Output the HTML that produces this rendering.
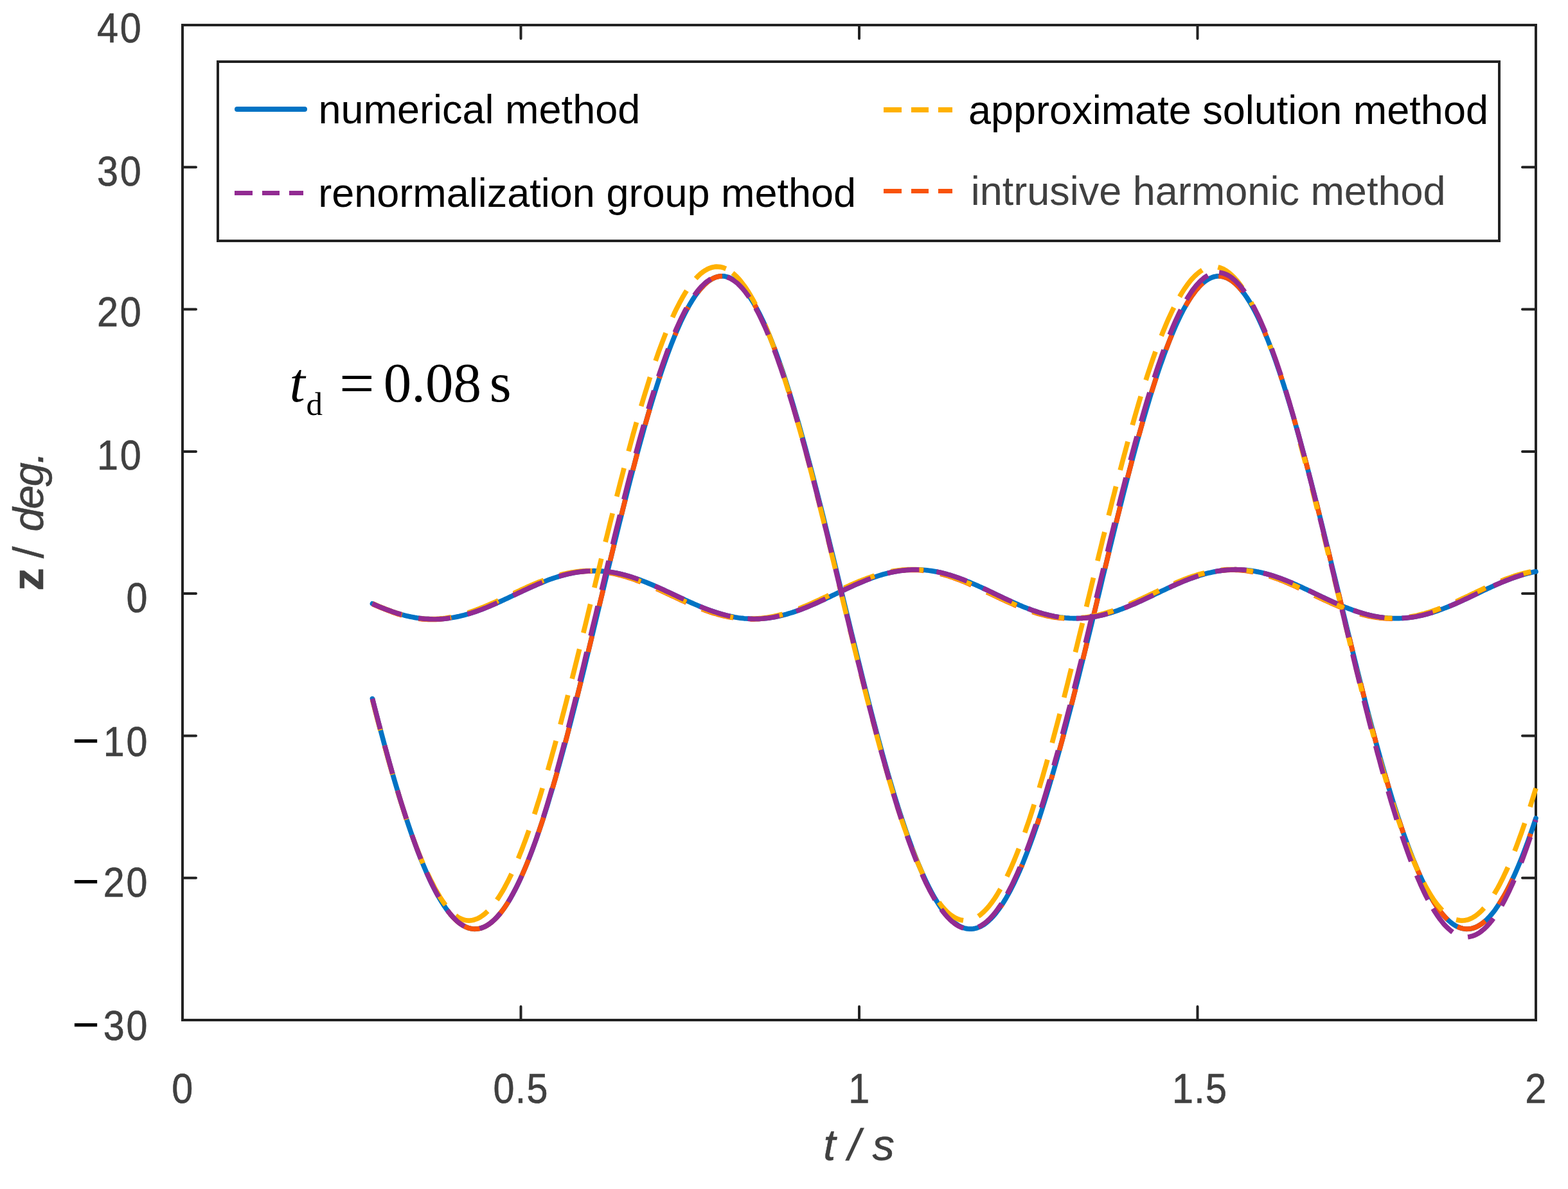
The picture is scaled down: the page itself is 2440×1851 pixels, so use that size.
<!DOCTYPE html>
<html lang="en"><head><meta charset="utf-8"><title>Time history comparison</title>
<style>
html,body{margin:0;padding:0;background:#fff;}
body{width:2440px;height:1851px;overflow:hidden;}
svg{display:block;}
</style></head>
<body>
<svg xmlns="http://www.w3.org/2000/svg" width="2440" height="1851" viewBox="0 0 2440 1851">
<defs><clipPath id="axclip"><rect x="282" y="37" width="2110.5" height="1553"/></clipPath></defs>
<rect x="0" y="0" width="2440" height="1851" fill="#ffffff"/>
<g stroke="#222222" stroke-width="4" fill="none" stroke-linecap="round">
<rect x="284" y="39" width="2106" height="1549"/>
<path d="M810.5 1588.0 V1567.0 M810.5 39.0 V60.0"/>
<path d="M1337.0 1588.0 V1567.0 M1337.0 39.0 V60.0"/>
<path d="M1863.5 1588.0 V1567.0 M1863.5 39.0 V60.0"/>
<path d="M284.0 260.3 H305.0 M2390.0 260.3 H2369.0"/>
<path d="M284.0 481.6 H305.0 M2390.0 481.6 H2369.0"/>
<path d="M284.0 702.9 H305.0 M2390.0 702.9 H2369.0"/>
<path d="M284.0 924.1 H305.0 M2390.0 924.1 H2369.0"/>
<path d="M284.0 1145.4 H305.0 M2390.0 1145.4 H2369.0"/>
<path d="M284.0 1366.7 H305.0 M2390.0 1366.7 H2369.0"/>
</g>
<g font-family="'Liberation Sans', Arial, sans-serif" font-size="62.5" fill="#404040" stroke="#404040" stroke-width="0.6" letter-spacing="2.8">
<text transform="translate(285.0,1717.0) scale(0.95,1.035)" text-anchor="middle">0</text>
<text transform="translate(1338.0,1717.0) scale(0.95,1.035)" text-anchor="middle">1</text>
<text transform="translate(2391.0,1717.0) scale(0.95,1.035)" text-anchor="middle">2</text>
<text transform="translate(853.7,1717.0) scale(0.95,1.035)" text-anchor="end" letter-spacing="1.3">0.5</text>
<text transform="translate(1910.3,1717.0) scale(0.95,1.035)" text-anchor="end" letter-spacing="1.3">1.5</text>
<text transform="translate(222.4,66.1) scale(0.95,1.035)" text-anchor="end">40</text>
<text transform="translate(222.4,289.0) scale(0.95,1.035)" text-anchor="end">30</text>
<text transform="translate(222.4,507.7) scale(0.95,1.035)" text-anchor="end">20</text>
<text transform="translate(222.4,731.0) scale(0.95,1.035)" text-anchor="end">10</text>
<text transform="translate(232.1,953.1) scale(0.95,1.035)" text-anchor="end">0</text>
<text transform="translate(232.1,1177.2) scale(0.95,1.035)" text-anchor="end">10</text>
<text x="133.5" y="1178.4" text-anchor="middle" fill="#000" stroke="none" letter-spacing="0" font-size="72.5">−</text>
<text transform="translate(232.1,1395.9) scale(0.95,1.035)" text-anchor="end">20</text>
<text x="133.5" y="1397.1" text-anchor="middle" fill="#000" stroke="none" letter-spacing="0" font-size="72.5">−</text>
<text transform="translate(232.1,1619.0) scale(0.95,1.035)" text-anchor="end">30</text>
<text x="133.5" y="1620.2" text-anchor="middle" fill="#000" stroke="none" letter-spacing="0" font-size="72.5">−</text>
</g>
<g font-family="'Liberation Sans', Arial, sans-serif" font-size="68.75" fill="#404040" stroke="#404040" stroke-width="0.5">
<text x="1336.6" y="1806" text-anchor="middle" font-style="italic">t / s</text>
<g transform="translate(67.0,0) rotate(-90)">
<text x="-919.7" y="0" font-weight="bold" textLength="35.5" lengthAdjust="spacingAndGlyphs">z</text>
<text x="-869.2" y="0" font-size="67">/</text>
<text x="-827.6" y="0" font-size="67" font-style="italic" letter-spacing="-2.1">deg.</text>
</g>
</g>
<g id="curves">
<path d="M579.5 939.8 L582.5 941.1 L585.5 942.4 L588.5 943.7 L591.5 944.9 L594.5 946.2 L597.5 947.4 L600.5 948.5 L603.5 949.6 L606.4 950.7 L609.4 951.8 L612.4 952.8 L615.4 953.8 L618.4 954.8 L621.4 955.7 L624.4 956.6 L627.4 957.4 L630.4 958.2 L633.4 958.9 L636.4 959.6 L639.4 960.2 L642.4 960.8 L645.4 961.4 L648.4 961.9 L651.4 962.3 L654.4 962.7 L657.4 963.0 L660.4 963.3 L663.4 963.6 L666.4 963.7 L669.4 963.9 L672.4 964.0 L675.4 964.0 L678.4 963.9 L681.4 963.9 L684.4 963.7 L687.4 963.5 L690.4 963.3 L693.4 963.0 L696.4 962.6 L699.4 962.2 L702.4 961.8 L705.4 961.3 L708.4 960.7 L711.4 960.1 L714.4 959.5 L717.4 958.8 L720.4 958.1 L723.4 957.3 L726.4 956.4 L729.3 955.6 L732.3 954.6 L735.3 953.7 L738.3 952.7 L741.3 951.7 L744.3 950.6 L747.3 949.5 L750.3 948.4 L753.3 947.2 L756.3 946.0 L759.3 944.8 L762.3 943.5 L765.3 942.2 L768.3 941.0 L771.3 939.6 L774.3 938.3 L777.3 936.9 L780.3 935.6 L783.3 934.2 L786.3 932.8 L789.3 931.4 L792.3 930.0 L795.3 928.6 L798.3 927.1 L801.3 925.7 L804.3 924.3 L807.3 922.9 L810.3 921.5 L813.3 920.1 L816.3 918.7 L819.3 917.3 L822.3 915.9 L825.3 914.6 L828.3 913.2 L831.3 911.9 L834.3 910.6 L837.3 909.3 L840.3 908.1 L843.3 906.9 L846.3 905.7 L849.3 904.5 L852.3 903.3 L855.2 902.2 L858.2 901.2 L861.2 900.1 L864.2 899.1 L867.2 898.2 L870.2 897.3 L873.2 896.4 L876.2 895.5 L879.2 894.7 L882.2 894.0 L885.2 893.3 L888.2 892.6 L891.2 892.0 L894.2 891.5 L897.2 891.0 L900.2 890.5 L903.2 890.1 L906.2 889.8 L909.2 889.5 L912.2 889.2 L915.2 889.0 L918.2 888.9 L921.2 888.8 L924.2 888.7 L927.2 888.8 L930.2 888.8 L933.2 888.9 L936.2 889.1 L939.2 889.4 L942.2 889.6 L945.2 890.0 L948.2 890.4 L951.2 890.8 L954.2 891.3 L957.2 891.8 L960.2 892.4 L963.2 893.0 L966.2 893.7 L969.2 894.5 L972.2 895.2 L975.2 896.1 L978.1 896.9 L981.1 897.8 L984.1 898.8 L987.1 899.8 L990.1 900.8 L993.1 901.8 L996.1 902.9 L999.1 904.1 L1002.1 905.2 L1005.1 906.4 L1008.1 907.6 L1011.1 908.9 L1014.1 910.1 L1017.1 911.4 L1020.1 912.7 L1023.1 914.1 L1026.1 915.4 L1029.1 916.8 L1032.1 918.1 L1035.1 919.5 L1038.1 920.9 L1041.1 922.3 L1044.1 923.7 L1047.1 925.1 L1050.1 926.5 L1053.1 927.9 L1056.1 929.3 L1059.1 930.7 L1062.1 932.1 L1065.1 933.5 L1068.1 934.9 L1071.1 936.2 L1074.1 937.6 L1077.1 938.9 L1080.1 940.2 L1083.1 941.5 L1086.1 942.8 L1089.1 944.1 L1092.1 945.3 L1095.1 946.5 L1098.1 947.7 L1101.0 948.8 L1104.0 949.9 L1107.0 951.0 L1110.0 952.0 L1113.0 953.0 L1116.0 954.0 L1119.0 954.9 L1122.0 955.8 L1125.0 956.6 L1128.0 957.4 L1131.0 958.2 L1134.0 958.9 L1137.0 959.5 L1140.0 960.1 L1143.0 960.7 L1146.0 961.2 L1149.0 961.7 L1152.0 962.1 L1155.0 962.4 L1158.0 962.8 L1161.0 963.0 L1164.0 963.2 L1167.0 963.4 L1170.0 963.4 L1173.0 963.5 L1176.0 963.5 L1179.0 963.4 L1182.0 963.3 L1185.0 963.1 L1188.0 962.9 L1191.0 962.6 L1194.0 962.3 L1197.0 961.9 L1200.0 961.5 L1203.0 961.0 L1206.0 960.4 L1209.0 959.8 L1212.0 959.2 L1215.0 958.5 L1218.0 957.8 L1221.0 957.0 L1223.9 956.2 L1226.9 955.3 L1229.9 954.4 L1232.9 953.5 L1235.9 952.5 L1238.9 951.5 L1241.9 950.4 L1244.9 949.3 L1247.9 948.2 L1250.9 947.0 L1253.9 945.8 L1256.9 944.6 L1259.9 943.3 L1262.9 942.0 L1265.9 940.7 L1268.9 939.4 L1271.9 938.1 L1274.9 936.7 L1277.9 935.3 L1280.9 933.9 L1283.9 932.5 L1286.9 931.1 L1289.9 929.7 L1292.9 928.2 L1295.9 926.8 L1298.9 925.4 L1301.9 923.9 L1304.9 922.5 L1307.9 921.0 L1310.9 919.6 L1313.9 918.2 L1316.9 916.8 L1319.9 915.4 L1322.9 914.0 L1325.9 912.6 L1328.9 911.3 L1331.9 910.0 L1334.9 908.6 L1337.9 907.4 L1340.9 906.1 L1343.9 904.9 L1346.8 903.6 L1349.8 902.5 L1352.8 901.3 L1355.8 900.2 L1358.8 899.1 L1361.8 898.1 L1364.8 897.1 L1367.8 896.1 L1370.8 895.2 L1373.8 894.3 L1376.8 893.5 L1379.8 892.7 L1382.8 892.0 L1385.8 891.3 L1388.8 890.6 L1391.8 890.0 L1394.8 889.5 L1397.8 889.0 L1400.8 888.5 L1403.8 888.1 L1406.8 887.8 L1409.8 887.5 L1412.8 887.3 L1415.8 887.1 L1418.8 886.9 L1421.8 886.9 L1424.8 886.8 L1427.8 886.9 L1430.8 886.9 L1433.8 887.1 L1436.8 887.3 L1439.8 887.5 L1442.8 887.8 L1445.8 888.2 L1448.8 888.6 L1451.8 889.1 L1454.8 889.6 L1457.8 890.1 L1460.8 890.8 L1463.8 891.4 L1466.8 892.1 L1469.7 892.9 L1472.7 893.7 L1475.7 894.6 L1478.7 895.4 L1481.7 896.4 L1484.7 897.4 L1487.7 898.4 L1490.7 899.4 L1493.7 900.5 L1496.7 901.6 L1499.7 902.8 L1502.7 904.0 L1505.7 905.2 L1508.7 906.4 L1511.7 907.7 L1514.7 909.0 L1517.7 910.3 L1520.7 911.6 L1523.7 913.0 L1526.7 914.3 L1529.7 915.7 L1532.7 917.1 L1535.7 918.5 L1538.7 919.9 L1541.7 921.4 L1544.7 922.8 L1547.7 924.2 L1550.7 925.7 L1553.7 927.1 L1556.7 928.5 L1559.7 929.9 L1562.7 931.4 L1565.7 932.8 L1568.7 934.2 L1571.7 935.5 L1574.7 936.9 L1577.7 938.2 L1580.7 939.6 L1583.7 940.9 L1586.7 942.2 L1589.7 943.4 L1592.6 944.7 L1595.6 945.9 L1598.6 947.0 L1601.6 948.2 L1604.6 949.3 L1607.6 950.4 L1610.6 951.4 L1613.6 952.4 L1616.6 953.4 L1619.6 954.3 L1622.6 955.1 L1625.6 956.0 L1628.6 956.8 L1631.6 957.5 L1634.6 958.2 L1637.6 958.9 L1640.6 959.5 L1643.6 960.0 L1646.6 960.5 L1649.6 961.0 L1652.6 961.3 L1655.6 961.7 L1658.6 962.0 L1661.6 962.2 L1664.6 962.4 L1667.6 962.5 L1670.6 962.6 L1673.6 962.6 L1676.6 962.6 L1679.6 962.5 L1682.6 962.4 L1685.6 962.2 L1688.6 962.0 L1691.6 961.7 L1694.6 961.3 L1697.6 960.9 L1700.6 960.5 L1703.6 960.0 L1706.6 959.4 L1709.6 958.8 L1712.6 958.1 L1715.5 957.4 L1718.5 956.7 L1721.5 955.9 L1724.5 955.1 L1727.5 954.2 L1730.5 953.3 L1733.5 952.3 L1736.5 951.3 L1739.5 950.3 L1742.5 949.2 L1745.5 948.1 L1748.5 946.9 L1751.5 945.7 L1754.5 944.5 L1757.5 943.3 L1760.5 942.0 L1763.5 940.8 L1766.5 939.4 L1769.5 938.1 L1772.5 936.8 L1775.5 935.4 L1778.5 934.0 L1781.5 932.6 L1784.5 931.2 L1787.5 929.8 L1790.5 928.4 L1793.5 927.0 L1796.5 925.5 L1799.5 924.1 L1802.5 922.7 L1805.5 921.2 L1808.5 919.8 L1811.5 918.4 L1814.5 917.0 L1817.5 915.6 L1820.5 914.2 L1823.5 912.8 L1826.5 911.5 L1829.5 910.2 L1832.5 908.8 L1835.5 907.6 L1838.4 906.3 L1841.4 905.0 L1844.4 903.8 L1847.4 902.7 L1850.4 901.5 L1853.4 900.4 L1856.4 899.3 L1859.4 898.3 L1862.4 897.3 L1865.4 896.3 L1868.4 895.4 L1871.4 894.5 L1874.4 893.6 L1877.4 892.8 L1880.4 892.1 L1883.4 891.4 L1886.4 890.7 L1889.4 890.1 L1892.4 889.5 L1895.4 889.0 L1898.4 888.6 L1901.4 888.1 L1904.4 887.8 L1907.4 887.5 L1910.4 887.2 L1913.4 887.0 L1916.4 886.9 L1919.4 886.8 L1922.4 886.7 L1925.4 886.8 L1928.4 886.8 L1931.4 887.0 L1934.4 887.1 L1937.4 887.4 L1940.4 887.6 L1943.4 888.0 L1946.4 888.4 L1949.4 888.8 L1952.4 889.3 L1955.4 889.9 L1958.4 890.4 L1961.3 891.1 L1964.3 891.8 L1967.3 892.5 L1970.3 893.3 L1973.3 894.1 L1976.3 895.0 L1979.3 895.9 L1982.3 896.8 L1985.3 897.8 L1988.3 898.9 L1991.3 899.9 L1994.3 901.0 L1997.3 902.2 L2000.3 903.3 L2003.3 904.5 L2006.3 905.8 L2009.3 907.0 L2012.3 908.3 L2015.3 909.6 L2018.3 910.9 L2021.3 912.3 L2024.3 913.6 L2027.3 915.0 L2030.3 916.4 L2033.3 917.8 L2036.3 919.2 L2039.3 920.6 L2042.3 922.1 L2045.3 923.5 L2048.3 924.9 L2051.3 926.4 L2054.3 927.8 L2057.3 929.2 L2060.3 930.6 L2063.3 932.0 L2066.3 933.4 L2069.3 934.8 L2072.3 936.2 L2075.3 937.6 L2078.3 938.9 L2081.3 940.2 L2084.2 941.5 L2087.2 942.8 L2090.2 944.0 L2093.2 945.3 L2096.2 946.4 L2099.2 947.6 L2102.2 948.7 L2105.2 949.8 L2108.2 950.9 L2111.2 951.9 L2114.2 952.9 L2117.2 953.8 L2120.2 954.7 L2123.2 955.6 L2126.2 956.4 L2129.2 957.1 L2132.2 957.9 L2135.2 958.5 L2138.2 959.2 L2141.2 959.7 L2144.2 960.3 L2147.2 960.7 L2150.2 961.2 L2153.2 961.5 L2156.2 961.8 L2159.2 962.1 L2162.2 962.3 L2165.2 962.5 L2168.2 962.6 L2171.2 962.6 L2174.2 962.6 L2177.2 962.6 L2180.2 962.5 L2183.2 962.3 L2186.2 962.1 L2189.2 961.8 L2192.2 961.5 L2195.2 961.1 L2198.2 960.7 L2201.2 960.2 L2204.2 959.7 L2207.1 959.1 L2210.1 958.5 L2213.1 957.8 L2216.1 957.1 L2219.1 956.3 L2222.1 955.5 L2225.1 954.6 L2228.1 953.7 L2231.1 952.8 L2234.1 951.8 L2237.1 950.8 L2240.1 949.7 L2243.1 948.6 L2246.1 947.5 L2249.1 946.3 L2252.1 945.2 L2255.1 943.9 L2258.1 942.7 L2261.1 941.4 L2264.1 940.1 L2267.1 938.8 L2270.1 937.5 L2273.1 936.1 L2276.1 934.7 L2279.1 933.3 L2282.1 931.9 L2285.1 930.5 L2288.1 929.1 L2291.1 927.7 L2294.1 926.3 L2297.1 924.8 L2300.1 923.4 L2303.1 922.0 L2306.1 920.5 L2309.1 919.1 L2312.1 917.7 L2315.1 916.3 L2318.1 914.9 L2321.1 913.5 L2324.1 912.2 L2327.1 910.8 L2330.0 909.5 L2333.0 908.2 L2336.0 906.9 L2339.0 905.7 L2342.0 904.4 L2345.0 903.3 L2348.0 902.1 L2351.0 901.0 L2354.0 899.9 L2357.0 898.8 L2360.0 897.8 L2363.0 896.8 L2366.0 895.8 L2369.0 894.9 L2372.0 894.0 L2375.0 893.2 L2378.0 892.4 L2381.0 891.7 L2384.0 891.0 L2387.0 890.4 L2390.0 889.8" stroke="#0073C4" stroke-width="7.7" fill="none" stroke-linecap="round" stroke-linejoin="round"/>
<path d="M579.5 1087.8 L582.5 1099.5 L585.5 1111.1 L588.5 1122.6 L591.5 1134.0 L594.5 1145.2 L597.5 1156.4 L600.5 1167.4 L603.5 1178.2 L606.4 1188.9 L609.4 1199.5 L612.4 1209.9 L615.4 1220.1 L618.4 1230.2 L621.4 1240.1 L624.4 1249.8 L627.4 1259.3 L630.4 1268.7 L633.4 1277.8 L636.4 1286.8 L639.4 1295.5 L642.4 1304.1 L645.4 1312.4 L648.4 1320.5 L651.4 1328.4 L654.4 1336.0 L657.4 1343.4 L660.4 1350.6 L663.4 1357.6 L666.4 1364.3 L669.4 1370.8 L672.4 1377.0 L675.4 1383.0 L678.4 1388.7 L681.4 1394.1 L684.4 1399.3 L687.4 1404.3 L690.4 1409.0 L693.4 1413.4 L696.4 1417.5 L699.4 1421.4 L702.4 1425.0 L705.4 1428.3 L708.4 1431.3 L711.4 1434.1 L714.4 1436.6 L717.4 1438.8 L720.4 1440.7 L723.4 1442.3 L726.4 1443.7 L729.3 1444.8 L732.3 1445.5 L735.3 1446.0 L738.3 1446.3 L741.3 1446.2 L744.3 1445.8 L747.3 1445.2 L750.3 1444.3 L753.3 1443.0 L756.3 1441.6 L759.3 1439.8 L762.3 1437.7 L765.3 1435.4 L768.3 1432.7 L771.3 1429.8 L774.3 1426.7 L777.3 1423.2 L780.3 1419.5 L783.3 1415.5 L786.3 1411.2 L789.3 1406.7 L792.3 1401.8 L795.3 1396.7 L798.3 1391.3 L801.3 1385.6 L804.3 1379.7 L807.3 1373.5 L810.3 1367.0 L813.3 1360.3 L816.3 1353.4 L819.3 1346.2 L822.3 1338.7 L825.3 1331.1 L828.3 1323.2 L831.3 1315.0 L834.3 1306.7 L837.3 1298.1 L840.3 1289.3 L843.3 1280.3 L846.3 1271.1 L849.3 1261.7 L852.3 1252.0 L855.2 1242.2 L858.2 1232.3 L861.2 1222.1 L864.2 1211.8 L867.2 1201.2 L870.2 1190.6 L873.2 1179.8 L876.2 1168.8 L879.2 1157.7 L882.2 1146.4 L885.2 1135.0 L888.2 1123.5 L891.2 1111.9 L894.2 1100.1 L897.2 1088.3 L900.2 1076.3 L903.2 1064.3 L906.2 1052.2 L909.2 1040.0 L912.2 1027.7 L915.2 1015.4 L918.2 1003.0 L921.2 990.5 L924.2 978.1 L927.2 965.6 L930.2 953.0 L933.2 940.5 L936.2 927.9 L939.2 915.5 L942.2 903.1 L945.2 890.7 L948.2 878.4 L951.2 866.0 L954.2 853.7 L957.2 841.5 L960.2 829.3 L963.2 817.1 L966.2 805.0 L969.2 793.0 L972.2 781.1 L975.2 769.3 L978.1 757.5 L981.1 745.9 L984.1 734.3 L987.1 722.9 L990.1 711.6 L993.1 700.5 L996.1 689.4 L999.1 678.6 L1002.1 667.8 L1005.1 657.3 L1008.1 646.9 L1011.1 636.7 L1014.1 626.6 L1017.1 616.8 L1020.1 607.1 L1023.1 597.6 L1026.1 588.4 L1029.1 579.3 L1032.1 570.5 L1035.1 561.9 L1038.1 553.5 L1041.1 545.4 L1044.1 537.5 L1047.1 529.8 L1050.1 522.4 L1053.1 515.3 L1056.1 508.4 L1059.1 501.7 L1062.1 495.4 L1065.1 489.3 L1068.1 483.5 L1071.1 478.0 L1074.1 472.7 L1077.1 467.8 L1080.1 463.1 L1083.1 458.7 L1086.1 454.7 L1089.1 450.9 L1092.1 447.5 L1095.1 444.3 L1098.1 441.4 L1101.0 438.9 L1104.0 436.7 L1107.0 434.8 L1110.0 433.2 L1113.0 431.9 L1116.0 430.9 L1119.0 430.3 L1122.0 429.9 L1125.0 429.9 L1128.0 430.2 L1131.0 430.9 L1134.0 431.8 L1137.0 433.1 L1140.0 434.6 L1143.0 436.5 L1146.0 438.7 L1149.0 441.2 L1152.0 444.1 L1155.0 447.2 L1158.0 450.6 L1161.0 454.4 L1164.0 458.4 L1167.0 462.7 L1170.0 467.4 L1173.0 472.3 L1176.0 477.5 L1179.0 483.0 L1182.0 488.8 L1185.0 494.9 L1188.0 501.2 L1191.0 507.8 L1194.0 514.7 L1197.0 521.8 L1200.0 529.2 L1203.0 536.8 L1206.0 544.7 L1209.0 552.8 L1212.0 561.2 L1215.0 569.8 L1218.0 578.6 L1221.0 587.6 L1223.9 596.9 L1226.9 606.3 L1229.9 616.0 L1232.9 625.8 L1235.9 635.8 L1238.9 646.0 L1241.9 656.4 L1244.9 667.0 L1247.9 677.7 L1250.9 688.6 L1253.9 699.6 L1256.9 710.7 L1259.9 722.0 L1262.9 733.4 L1265.9 744.9 L1268.9 756.6 L1271.9 768.3 L1274.9 780.1 L1277.9 792.0 L1280.9 804.0 L1283.9 816.1 L1286.9 828.3 L1289.9 840.5 L1292.9 852.7 L1295.9 865.0 L1298.9 877.3 L1301.9 889.7 L1304.9 902.1 L1307.9 914.5 L1310.9 926.9 L1313.9 939.3 L1316.9 951.7 L1319.9 964.0 L1322.9 976.4 L1325.9 988.7 L1328.9 1001.0 L1331.9 1013.2 L1334.9 1025.4 L1337.9 1037.5 L1340.9 1049.6 L1343.9 1061.6 L1346.8 1073.5 L1349.8 1085.3 L1352.8 1097.0 L1355.8 1108.7 L1358.8 1120.2 L1361.8 1131.6 L1364.8 1142.9 L1367.8 1154.0 L1370.8 1165.0 L1373.8 1175.9 L1376.8 1186.7 L1379.8 1197.3 L1382.8 1207.7 L1385.8 1218.0 L1388.8 1228.1 L1391.8 1238.0 L1394.8 1247.8 L1397.8 1257.3 L1400.8 1266.7 L1403.8 1275.9 L1406.8 1284.9 L1409.8 1293.7 L1412.8 1302.3 L1415.8 1310.6 L1418.8 1318.8 L1421.8 1326.7 L1424.8 1334.4 L1427.8 1341.9 L1430.8 1349.1 L1433.8 1356.1 L1436.8 1362.9 L1439.8 1369.4 L1442.8 1375.7 L1445.8 1381.7 L1448.8 1387.5 L1451.8 1393.0 L1454.8 1398.3 L1457.8 1403.3 L1460.8 1408.0 L1463.8 1412.5 L1466.8 1416.7 L1469.7 1420.6 L1472.7 1424.2 L1475.7 1427.6 L1478.7 1430.7 L1481.7 1433.5 L1484.7 1436.1 L1487.7 1438.3 L1490.7 1440.3 L1493.7 1442.0 L1496.7 1443.4 L1499.7 1444.6 L1502.7 1445.4 L1505.7 1446.0 L1508.7 1446.2 L1511.7 1446.2 L1514.7 1445.9 L1517.7 1445.3 L1520.7 1444.5 L1523.7 1443.3 L1526.7 1441.9 L1529.7 1440.2 L1532.7 1438.2 L1535.7 1435.9 L1538.7 1433.3 L1541.7 1430.5 L1544.7 1427.4 L1547.7 1424.0 L1550.7 1420.3 L1553.7 1416.3 L1556.7 1412.1 L1559.7 1407.7 L1562.7 1402.9 L1565.7 1397.9 L1568.7 1392.6 L1571.7 1387.1 L1574.7 1381.3 L1577.7 1375.2 L1580.7 1368.9 L1583.7 1362.4 L1586.7 1355.6 L1589.7 1348.6 L1592.6 1341.3 L1595.6 1333.8 L1598.6 1326.1 L1601.6 1318.2 L1604.6 1310.0 L1607.6 1301.6 L1610.6 1293.0 L1613.6 1284.2 L1616.6 1275.2 L1619.6 1266.0 L1622.6 1256.6 L1625.6 1247.0 L1628.6 1237.3 L1631.6 1227.3 L1634.6 1217.2 L1637.6 1206.9 L1640.6 1196.5 L1643.6 1185.9 L1646.6 1175.1 L1649.6 1164.2 L1652.6 1153.2 L1655.6 1142.0 L1658.6 1130.7 L1661.6 1119.3 L1664.6 1107.8 L1667.6 1096.2 L1670.6 1084.4 L1673.6 1072.6 L1676.6 1060.7 L1679.6 1048.7 L1682.6 1036.6 L1685.6 1024.5 L1688.6 1012.3 L1691.6 1000.1 L1694.6 987.8 L1697.6 975.5 L1700.6 963.1 L1703.6 950.7 L1706.6 938.4 L1709.6 926.0 L1712.6 913.6 L1715.5 901.2 L1718.5 888.8 L1721.5 876.4 L1724.5 864.1 L1727.5 851.8 L1730.5 839.6 L1733.5 827.4 L1736.5 815.2 L1739.5 803.1 L1742.5 791.1 L1745.5 779.2 L1748.5 767.4 L1751.5 755.7 L1754.5 744.1 L1757.5 732.5 L1760.5 721.1 L1763.5 709.9 L1766.5 698.7 L1769.5 687.7 L1772.5 676.9 L1775.5 666.2 L1778.5 655.6 L1781.5 645.3 L1784.5 635.1 L1787.5 625.1 L1790.5 615.2 L1793.5 605.6 L1796.5 596.2 L1799.5 586.9 L1802.5 577.9 L1805.5 569.1 L1808.5 560.6 L1811.5 552.2 L1814.5 544.1 L1817.5 536.3 L1820.5 528.6 L1823.5 521.3 L1826.5 514.2 L1829.5 507.3 L1832.5 500.7 L1835.5 494.4 L1838.4 488.4 L1841.4 482.6 L1844.4 477.1 L1847.4 471.9 L1850.4 467.0 L1853.4 462.4 L1856.4 458.1 L1859.4 454.1 L1862.4 450.4 L1865.4 446.9 L1868.4 443.8 L1871.4 441.0 L1874.4 438.5 L1877.4 436.4 L1880.4 434.5 L1883.4 433.0 L1886.4 431.7 L1889.4 430.8 L1892.4 430.2 L1895.4 429.9 L1898.4 430.0 L1901.4 430.3 L1904.4 431.0 L1907.4 432.0 L1910.4 433.3 L1913.4 434.9 L1916.4 436.8 L1919.4 439.1 L1922.4 441.7 L1925.4 444.5 L1928.4 447.7 L1931.4 451.2 L1934.4 455.0 L1937.4 459.1 L1940.4 463.4 L1943.4 468.1 L1946.4 473.1 L1949.4 478.4 L1952.4 483.9 L1955.4 489.7 L1958.4 495.8 L1961.3 502.2 L1964.3 508.9 L1967.3 515.8 L1970.3 523.0 L1973.3 530.4 L1976.3 538.1 L1979.3 546.0 L1982.3 554.1 L1985.3 562.5 L1988.3 571.2 L1991.3 580.0 L1994.3 589.1 L1997.3 598.3 L2000.3 607.8 L2003.3 617.5 L2006.3 627.4 L2009.3 637.4 L2012.3 647.7 L2015.3 658.1 L2018.3 668.6 L2021.3 679.4 L2024.3 690.3 L2027.3 701.3 L2030.3 712.5 L2033.3 723.8 L2036.3 735.2 L2039.3 746.7 L2042.3 758.4 L2045.3 770.1 L2048.3 782.0 L2051.3 793.9 L2054.3 805.9 L2057.3 818.0 L2060.3 830.2 L2063.3 842.4 L2066.3 854.6 L2069.3 866.9 L2072.3 879.3 L2075.3 891.6 L2078.3 904.0 L2081.3 916.4 L2084.2 928.8 L2087.2 941.2 L2090.2 953.6 L2093.2 966.0 L2096.2 978.3 L2099.2 990.6 L2102.2 1002.9 L2105.2 1015.1 L2108.2 1027.3 L2111.2 1039.4 L2114.2 1051.5 L2117.2 1063.5 L2120.2 1075.4 L2123.2 1087.2 L2126.2 1098.9 L2129.2 1110.5 L2132.2 1122.0 L2135.2 1133.4 L2138.2 1144.6 L2141.2 1155.8 L2144.2 1166.8 L2147.2 1177.6 L2150.2 1188.3 L2153.2 1198.9 L2156.2 1209.3 L2159.2 1219.6 L2162.2 1229.6 L2165.2 1239.6 L2168.2 1249.3 L2171.2 1258.8 L2174.2 1268.2 L2177.2 1277.3 L2180.2 1286.3 L2183.2 1295.0 L2186.2 1303.6 L2189.2 1311.9 L2192.2 1320.0 L2195.2 1327.9 L2198.2 1335.6 L2201.2 1343.0 L2204.2 1350.2 L2207.1 1357.2 L2210.1 1363.9 L2213.1 1370.4 L2216.1 1376.7 L2219.1 1382.7 L2222.1 1388.4 L2225.1 1393.9 L2228.1 1399.1 L2231.1 1404.0 L2234.1 1408.7 L2237.1 1413.1 L2240.1 1417.3 L2243.1 1421.2 L2246.1 1424.8 L2249.1 1428.1 L2252.1 1431.2 L2255.1 1433.9 L2258.1 1436.4 L2261.1 1438.7 L2264.1 1440.6 L2267.1 1442.3 L2270.1 1443.6 L2273.1 1444.7 L2276.1 1445.5 L2279.1 1446.0 L2282.1 1446.3 L2285.1 1446.2 L2288.1 1445.9 L2291.1 1445.2 L2294.1 1444.3 L2297.1 1443.1 L2300.1 1441.6 L2303.1 1439.9 L2306.1 1437.8 L2309.1 1435.5 L2312.1 1432.9 L2315.1 1430.0 L2318.1 1426.8 L2321.1 1423.4 L2324.1 1419.7 L2327.1 1415.7 L2330.0 1411.4 L2333.0 1406.9 L2336.0 1402.1 L2339.0 1397.1 L2342.0 1391.8 L2345.0 1386.2 L2348.0 1380.4 L2351.0 1374.3 L2354.0 1367.9 L2357.0 1361.4 L2360.0 1354.5 L2363.0 1347.5 L2366.0 1340.2 L2369.0 1332.7 L2372.0 1324.9 L2375.0 1316.9 L2378.0 1308.7 L2381.0 1300.3 L2384.0 1291.7 L2387.0 1282.8 L2390.0 1273.8" stroke="#0073C4" stroke-width="7.7" fill="none" stroke-linecap="round" stroke-linejoin="round"/>
<path d="M579.5 940.3 L582.3 941.5 L585.2 942.8 L588.1 944.0 L591.0 945.2 L593.9 946.4 L596.7 947.5 L599.6 948.6 L602.5 949.8 L605.4 950.9 L608.3 952.0 L611.1 953.0 L614.0 954.1 L616.9 955.0 L619.8 956.0 L622.6 956.8 L625.5 957.7 M651.3 963.1 L654.3 963.5 L657.3 963.8 L660.3 964.0 L663.3 964.2 L666.3 964.3 L669.3 964.4 L672.3 964.4 L675.3 964.4 L678.3 964.3 L681.3 964.1 L684.3 963.9 L687.3 963.6 L690.3 963.2 L693.3 962.8 L696.3 962.4 L699.3 961.8 L702.3 961.3 M728.0 954.6 L730.9 953.7 L733.9 952.7 L736.9 951.6 L739.9 950.6 L742.9 949.4 L745.8 948.3 L748.8 947.1 L751.8 945.9 L754.8 944.7 L757.8 943.4 L760.7 942.2 L763.7 940.9 L766.7 939.5 L769.7 938.2 L772.7 936.9 L775.7 935.5 M799.5 924.3 L802.4 922.9 L805.4 921.5 L808.3 920.1 L811.2 918.8 L814.1 917.4 L817.1 916.1 L820.0 914.8 L822.9 913.5 L825.8 912.2 L828.8 910.9 L831.7 909.7 L834.6 908.5 L837.5 907.3 L840.4 906.1 L843.4 905.0 L846.3 903.9 M871.2 895.8 L874.2 895.0 L877.1 894.3 L880.1 893.6 L883.1 893.0 L886.1 892.4 L889.0 891.8 L892.0 891.3 L895.0 890.9 L897.9 890.5 L900.9 890.1 L903.9 889.9 L906.8 889.6 L909.8 889.4 L912.8 889.3 L915.7 889.2 L918.7 889.2 L921.7 889.2 M947.9 891.7 L950.8 892.2 L953.7 892.7 L956.6 893.3 L959.5 894.0 L962.4 894.7 L965.3 895.4 L968.2 896.2 L971.1 897.0 L974.0 897.9 L976.9 898.8 L979.8 899.7 L982.7 900.7 L985.6 901.7 L988.5 902.7 L991.4 903.8 L994.3 904.9 L997.2 906.0 M1021.6 916.4 L1024.5 917.7 L1027.4 919.0 L1030.3 920.4 L1033.2 921.7 L1036.1 923.1 L1039.0 924.5 L1041.9 925.8 L1044.8 927.2 L1047.7 928.5 L1050.6 929.9 L1053.5 931.3 L1056.4 932.6 L1059.3 934.0 L1062.2 935.3 L1065.1 936.6 L1068.0 937.9 M1092.2 948.1 L1095.1 949.2 L1098.0 950.3 L1100.9 951.3 L1103.7 952.3 L1106.6 953.3 L1109.5 954.2 L1112.4 955.1 L1115.3 955.9 L1118.1 956.8 L1121.0 957.5 L1123.9 958.3 L1126.8 959.0 L1129.7 959.6 L1132.5 960.2 L1135.4 960.8 L1138.3 961.3 L1141.2 961.8 M1167.4 963.9 L1170.3 963.9 L1173.3 963.8 L1176.3 963.7 L1179.3 963.6 L1182.3 963.3 L1185.2 963.0 L1188.2 962.7 L1191.2 962.3 L1194.2 961.9 L1197.2 961.4 L1200.1 960.9 L1203.1 960.3 L1206.1 959.7 L1209.1 959.0 L1212.1 958.3 L1215.0 957.5 L1218.0 956.7 M1243.1 948.2 L1246.1 947.1 L1249.0 945.9 L1251.9 944.7 L1254.8 943.4 L1257.8 942.2 L1260.7 940.9 L1263.6 939.6 L1266.6 938.3 L1269.5 937.0 L1272.4 935.6 L1275.4 934.2 L1278.3 932.9 L1281.2 931.5 L1284.2 930.1 L1287.1 928.7 L1290.0 927.3 M1313.8 916.0 L1316.7 914.6 L1319.7 913.2 L1322.7 911.9 L1325.6 910.6 L1328.6 909.3 L1331.5 908.0 L1334.5 906.8 L1337.4 905.6 L1340.4 904.4 L1343.3 903.2 L1346.3 902.1 L1349.2 901.0 L1352.2 899.9 L1355.1 898.9 L1358.1 897.9 L1361.0 896.9 M1386.4 890.4 L1389.4 889.9 L1392.4 889.4 L1395.4 888.9 L1398.4 888.5 L1401.4 888.2 L1404.4 887.9 L1407.4 887.7 L1410.4 887.5 L1413.4 887.4 L1416.4 887.3 L1419.3 887.3 L1422.3 887.3 L1425.3 887.4 L1428.3 887.5 L1431.3 887.7 L1434.3 888.0 L1437.3 888.3 M1463.3 893.2 L1466.1 893.9 L1469.0 894.7 L1471.8 895.5 L1474.7 896.4 L1477.5 897.3 L1480.4 898.3 L1483.2 899.2 L1486.0 900.3 L1488.9 901.3 L1491.7 902.4 L1494.6 903.5 L1497.4 904.6 L1500.3 905.8 L1503.1 906.9 L1506.0 908.1 L1508.8 909.4 L1511.6 910.6 M1535.6 921.7 L1538.5 923.1 L1541.4 924.5 L1544.3 925.8 L1547.2 927.2 L1550.1 928.6 L1553.0 930.0 L1555.9 931.4 L1558.8 932.7 L1561.7 934.1 L1564.6 935.4 L1567.5 936.7 L1570.4 938.0 L1573.3 939.3 L1576.2 940.6 L1579.1 941.9 L1582.0 943.1 M1606.5 952.4 L1609.5 953.4 L1612.4 954.3 L1615.3 955.2 L1618.3 956.0 L1621.2 956.8 L1624.1 957.5 L1627.0 958.2 L1630.0 958.9 L1632.9 959.5 L1635.8 960.1 L1638.8 960.6 L1641.7 961.1 L1644.6 961.5 L1647.5 961.9 L1650.5 962.2 L1653.4 962.5 L1656.3 962.7 M1682.6 962.4 L1685.6 962.1 L1688.5 961.8 L1691.5 961.4 L1694.4 961.0 L1697.4 960.5 L1700.3 959.9 L1703.2 959.3 L1706.2 958.7 L1709.1 958.0 L1712.1 957.3 L1715.0 956.5 L1718.0 955.7 L1720.9 954.9 L1723.8 954.0 L1726.8 953.0 L1729.7 952.1 L1732.7 951.1 M1757.3 941.4 L1760.2 940.1 L1763.1 938.8 L1766.0 937.5 L1768.9 936.2 L1771.8 934.9 L1774.7 933.5 L1777.6 932.2 L1780.5 930.8 L1783.4 929.4 L1786.3 928.1 L1789.2 926.7 L1792.1 925.3 L1795.0 923.9 L1797.9 922.5 L1800.8 921.1 L1803.7 919.8 M1827.2 909.0 L1830.2 907.8 L1833.2 906.5 L1836.1 905.3 L1839.1 904.1 L1842.0 902.9 L1845.0 901.8 L1848.0 900.7 L1850.9 899.7 L1853.9 898.6 L1856.8 897.6 L1859.8 896.7 L1862.7 895.8 L1865.7 894.9 L1868.7 894.1 L1871.6 893.3 L1874.6 892.5 M1900.0 888.1 L1903.0 887.8 L1905.9 887.6 L1908.9 887.4 L1911.8 887.3 L1914.8 887.2 L1917.7 887.2 L1920.7 887.2 L1923.6 887.3 L1926.6 887.5 L1929.5 887.6 L1932.5 887.9 L1935.4 888.2 L1938.4 888.5 L1941.3 888.9 L1944.3 889.4 L1947.2 889.9 L1950.2 890.4 M1975.3 896.9 L1978.3 897.9 L1981.2 898.8 L1984.1 899.9 L1987.0 900.9 L1990.0 902.0 L1992.9 903.1 L1995.8 904.3 L1998.7 905.5 L2001.6 906.7 L2004.6 907.9 L2007.5 909.2 L2010.4 910.5 L2013.3 911.7 L2016.3 913.1 L2019.2 914.4 L2022.1 915.7 M2045.6 926.9 L2048.5 928.2 L2051.3 929.6 L2054.2 931.0 L2057.1 932.3 L2060.0 933.7 L2062.9 935.0 L2065.7 936.3 L2068.6 937.6 L2071.5 938.9 L2074.4 940.2 L2077.3 941.5 L2080.2 942.7 L2083.0 943.9 L2085.9 945.1 L2088.8 946.2 L2091.7 947.4 M2116.4 955.7 L2119.4 956.5 L2122.4 957.3 L2125.3 958.0 L2128.3 958.7 L2131.3 959.4 L2134.2 959.9 L2137.2 960.5 L2140.1 961.0 L2143.1 961.4 L2146.1 961.8 L2149.0 962.1 L2152.0 962.4 L2155.0 962.7 L2157.9 962.9 L2160.9 963.0 L2163.9 963.1 L2166.8 963.1 M2193.0 961.0 L2195.9 960.6 L2198.7 960.1 L2201.6 959.5 L2204.5 958.9 L2207.4 958.2 L2210.3 957.5 L2213.1 956.8 L2216.0 956.0 L2218.9 955.2 L2221.8 954.3 L2224.7 953.5 L2227.5 952.5 L2230.4 951.5 L2233.3 950.5 L2236.2 949.5 L2239.0 948.4 L2241.9 947.3 M2266.0 937.1 L2268.9 935.8 L2271.7 934.5 L2274.6 933.2 L2277.5 931.8 L2280.3 930.5 L2283.2 929.1 L2286.1 927.8 L2288.9 926.4 L2291.8 925.0 L2294.7 923.6 L2297.5 922.3 L2300.4 920.9 L2303.3 919.6 L2306.1 918.2 L2309.0 916.9 L2311.9 915.5 M2335.9 905.0 L2338.8 903.9 L2341.7 902.8 L2344.6 901.7 L2347.5 900.6 L2350.4 899.5 L2353.3 898.5 L2356.2 897.6 L2359.1 896.6 L2362.0 895.7 L2364.8 894.9 L2367.7 894.1 L2370.6 893.3 L2373.5 892.6 L2376.4 891.9 L2379.3 891.2 L2382.2 890.6" stroke="#F9530A" stroke-width="7.7" fill="none" stroke-linecap="butt" stroke-linejoin="round"/>
<path d="M696.7 1418.0 L699.7 1421.7 L702.6 1425.2 L705.5 1428.4 L708.4 1431.4 L711.3 1434.1 L714.2 1436.5 L717.2 1438.6 L720.1 1440.5 L723.0 1442.1 L725.9 1443.5 L728.8 1444.6 L731.7 1445.4 L734.6 1446.0 L737.6 1446.2 L740.5 1446.2 L743.4 1446.0 L746.3 1445.4 M722.7 1442.0 L725.7 1443.4 L728.6 1444.5 L731.6 1445.4 L734.6 1445.9 L737.5 1446.2 L740.5 1446.2 L743.5 1446.0 L746.4 1445.4 L749.4 1444.6 L752.4 1443.5 L755.3 1442.1 L758.3 1440.4 L761.3 1438.5 L764.3 1436.2 L767.2 1433.7 L770.2 1431.0 L773.2 1427.9 L776.1 1424.6 L779.1 1421.0 L782.1 1417.2 L785.0 1413.1 L788.0 1408.7 L791.0 1404.0 M811.9 1363.5 L814.5 1357.5 L817.2 1351.3 L819.8 1344.9 L822.4 1338.3 M838.0 1296.0 L840.6 1288.3 L843.2 1280.5 L845.8 1272.5 M859.7 1227.4 L862.1 1219.1 L864.6 1210.6 L867.0 1202.1 M879.6 1156.3 L881.7 1148.5 L883.7 1140.6 L885.8 1132.7 M898.0 1085.3 L900.0 1077.2 L902.0 1069.1 L904.0 1061.0 M915.3 1015.1 L917.3 1006.7 L919.3 998.3 L921.4 989.8 M932.4 943.7 L934.4 935.2 L936.5 926.8 L938.5 918.4 M949.4 873.2 L951.5 864.6 L953.6 856.0 L955.7 847.5 M967.0 801.8 L969.0 793.7 L971.0 785.6 L973.1 777.5 M984.7 732.3 L987.0 723.5 L989.3 714.8 L991.6 706.1 M1003.9 661.5 L1006.3 653.2 L1008.7 645.0 L1011.1 636.9 M1025.9 589.0 L1027.2 585.0 M1050.3 522.0 L1052.1 517.5 M1069.4 481.0 L1071.1 478.0 M1086.0 454.8 L1088.9 451.1 L1091.8 447.7 L1094.8 444.6 L1097.7 441.8 L1100.6 439.3 L1103.5 437.0 L1106.5 435.1 L1109.4 433.5 L1112.3 432.2 L1115.2 431.2 L1118.2 430.4 L1121.1 430.0 L1124.0 429.9 M1174.0 474.0 L1175.6 476.8 L1177.1 479.6 M1204.6 541.0 L1206.0 544.7 M1228.0 609.8 L1229.2 613.5 M1556.8 1412.0 L1559.4 1408.0 M1589.1 1350.0 L1590.7 1346.0 M1613.9 1283.5 L1615.5 1278.8 L1617.0 1274.0 M1635.7 1213.5 L1637.9 1206.0 M1648.5 1168.2 L1650.8 1159.8 L1653.1 1151.4 L1655.4 1142.9 M1667.2 1097.6 L1669.4 1089.2 L1671.5 1080.8 L1673.7 1072.3 M1685.1 1026.5 L1687.2 1017.9 L1689.3 1009.3 L1691.4 1000.6 M1702.2 956.3 L1704.3 947.9 L1706.3 939.4 L1708.3 931.0 M1719.5 884.9 L1721.6 876.3 L1723.7 867.6 L1725.8 859.0 M1736.9 813.8 L1739.0 805.2 L1741.2 796.6 L1743.3 788.0 M1754.6 743.7 L1757.0 734.6 L1759.4 725.5 L1761.7 716.5 M1771.8 679.5 L1774.0 671.6 L1776.2 663.7 L1778.4 656.0 M1791.7 611.2 L1794.2 603.3 L1796.7 595.6 L1799.1 588.0 M1814.3 544.7 L1816.6 538.6 L1818.9 532.7 L1821.2 526.9 L1823.5 521.2 M1845.1 476.0 L1848.0 470.9 L1851.0 466.1 L1854.0 461.6 L1857.0 457.4 L1859.9 453.4 L1862.9 449.8 L1865.9 446.5 L1868.8 443.4 L1871.8 440.7 M1896.2 429.9 L1899.1 430.0 L1901.9 430.4 L1904.8 431.1 L1907.6 432.1 L1910.5 433.3 L1913.3 434.9 L1916.2 436.7 L1919.0 438.8 L1921.9 441.2 L1924.7 443.9 L1927.6 446.8 L1930.4 450.1 L1933.3 453.6 M1968.1 517.5 L1970.4 523.0 M1992.7 584.0 L1995.0 591.0 M2013.8 652.8 L2016.4 661.8 M2029.9 711.1 L2032.6 721.0 L2035.2 731.0 M2048.0 780.7 L2050.6 791.3 L2053.3 802.0 M2065.4 851.3 L2068.1 862.1 L2070.7 873.0 M2082.8 922.9 L2085.4 933.7 L2088.0 944.5 M2099.7 992.5 L2102.3 1003.4 L2105.0 1014.2 M2117.3 1063.7 L2120.1 1074.9 L2122.9 1086.1 M2135.6 1134.9 L2138.5 1145.8 L2141.4 1156.6 M2154.8 1204.5 L2157.0 1212.1 L2159.2 1219.6 L2161.4 1227.0 M2176.7 1276.0 L2179.1 1283.0 L2181.4 1289.9 L2183.7 1296.7 M2200.3 1341.0 L2202.6 1346.6 L2205.0 1352.1 L2207.3 1357.5 L2209.6 1362.7 M2228.7 1400.0 L2231.7 1404.9 L2234.6 1409.5 L2237.6 1413.8 L2240.6 1417.9 L2243.5 1421.7 L2246.5 1425.2 L2249.5 1428.5 L2252.5 1431.5 M2267.9 1442.6 L2270.7 1443.8 L2273.4 1444.8 L2276.2 1445.5 L2279.0 1446.0 L2281.7 1446.2 L2284.5 1446.2 L2287.2 1446.0 L2290.0 1445.5 M2290.0 1445.5 L2292.7 1444.8 L2295.3 1443.9 L2297.9 1442.7 L2300.6 1441.4 L2303.2 1439.8 L2305.9 1438.0 L2308.5 1435.9 L2311.2 1433.7 M2332.3 1408.0 L2335.0 1403.8 L2337.7 1399.3 L2340.4 1394.6 L2343.1 1389.8 L2345.8 1384.7 L2348.5 1379.4 L2351.2 1373.9 L2353.9 1368.2 M2380.1 1303.0 L2381.9 1297.7" stroke="#F9530A" stroke-width="7.7" fill="none" stroke-linecap="butt" stroke-linejoin="round"/>
<path d="M579.5 939.6 L582.3 940.8 L585.2 942.1 L588.0 943.3 L590.9 944.5 L593.7 945.6 L596.6 946.8 L599.4 947.9 L602.3 949.0 L605.1 950.1 L608.0 951.2 L610.8 952.3 L613.6 953.3 L616.5 954.2 L619.3 955.2 L622.2 956.0 L625.0 956.9 M651.8 962.5 L654.8 962.9 L657.7 963.1 L660.6 963.4 L663.6 963.6 L666.5 963.7 L669.5 963.7 L672.4 963.7 L675.4 963.7 L678.3 963.6 L681.2 963.4 L684.2 963.2 L687.1 962.9 L690.1 962.6 L693.0 962.2 L695.9 961.7 L698.9 961.2 L701.8 960.7 M728.4 953.8 L731.4 952.9 L734.3 951.9 L737.2 950.9 L740.1 949.8 L743.1 948.7 L746.0 947.6 L748.9 946.4 L751.8 945.3 L754.7 944.1 L757.7 942.8 L760.6 941.6 L763.5 940.3 L766.4 939.0 L769.4 937.7 L772.3 936.4 L775.2 935.0 M800.0 923.4 L802.8 922.0 L805.7 920.7 L808.6 919.4 L811.4 918.0 L814.3 916.7 L817.2 915.4 L820.0 914.1 L822.9 912.8 L825.8 911.6 L828.6 910.3 L831.5 909.1 L834.4 907.9 L837.2 906.7 L840.1 905.6 L843.0 904.5 L845.8 903.4 M871.7 895.0 L874.6 894.2 L877.5 893.5 L880.4 892.9 L883.3 892.2 L886.2 891.7 L889.2 891.1 L892.1 890.7 L895.0 890.2 L897.9 889.8 L900.8 889.5 L903.7 889.2 L906.6 889.0 L909.5 888.8 L912.4 888.6 L915.3 888.6 L918.2 888.5 L921.2 888.5 M948.4 891.1 L951.3 891.6 L954.1 892.1 L956.9 892.7 L959.8 893.4 L962.6 894.1 L965.5 894.8 L968.3 895.5 L971.2 896.4 L974.0 897.2 L976.9 898.1 L979.7 899.0 L982.5 899.9 L985.4 900.9 L988.2 901.9 L991.1 903.0 L993.9 904.1 L996.8 905.2 M1022.0 915.9 L1024.9 917.2 L1027.7 918.5 L1030.6 919.9 L1033.4 921.2 L1036.2 922.5 L1039.1 923.8 L1041.9 925.2 L1044.8 926.5 L1047.6 927.9 L1050.5 929.2 L1053.3 930.5 L1056.2 931.8 L1059.0 933.2 L1061.9 934.5 L1064.7 935.8 L1067.6 937.1 M1092.7 947.6 L1095.5 948.7 L1098.3 949.7 L1101.2 950.7 L1104.0 951.7 L1106.8 952.7 L1109.6 953.6 L1112.5 954.4 L1115.3 955.3 L1118.1 956.1 L1120.9 956.9 L1123.7 957.6 L1126.6 958.3 L1129.4 958.9 L1132.2 959.5 L1135.0 960.1 L1137.9 960.6 L1140.7 961.1 M1167.9 963.3 L1170.8 963.2 L1173.7 963.2 L1176.6 963.0 L1179.6 962.9 L1182.5 962.6 L1185.4 962.4 L1188.3 962.0 L1191.2 961.7 L1194.2 961.2 L1197.1 960.8 L1200.0 960.2 L1202.9 959.7 L1205.9 959.1 L1208.8 958.4 L1211.7 957.7 L1214.6 956.9 L1217.5 956.1 M1243.6 947.4 L1246.5 946.2 L1249.3 945.1 L1252.2 943.9 L1255.1 942.7 L1258.0 941.4 L1260.8 940.2 L1263.7 938.9 L1266.6 937.6 L1269.5 936.3 L1272.3 935.0 L1275.2 933.7 L1278.1 932.3 L1280.9 930.9 L1283.8 929.6 L1286.7 928.2 L1289.6 926.8 M1314.2 915.1 L1317.1 913.8 L1320.0 912.4 L1322.9 911.1 L1325.8 909.8 L1328.7 908.6 L1331.6 907.3 L1334.5 906.1 L1337.4 904.9 L1340.3 903.7 L1343.2 902.6 L1346.1 901.5 L1349.0 900.4 L1351.9 899.3 L1354.8 898.3 L1357.7 897.3 L1360.6 896.4 M1386.9 889.6 L1389.8 889.1 L1392.8 888.6 L1395.7 888.2 L1398.6 887.8 L1401.6 887.5 L1404.5 887.2 L1407.5 887.0 L1410.4 886.8 L1413.3 886.7 L1416.3 886.6 L1419.2 886.6 L1422.1 886.6 L1425.1 886.7 L1428.0 886.9 L1430.9 887.0 L1433.9 887.3 L1436.8 887.6 M1463.8 892.6 L1466.7 893.4 L1469.7 894.3 L1472.7 895.1 L1475.6 896.1 L1478.6 897.0 L1481.6 898.0 L1484.5 899.0 L1487.5 900.1 L1490.4 901.2 L1493.4 902.3 L1496.4 903.5 L1499.3 904.7 L1502.3 905.9 L1505.3 907.2 L1508.2 908.4 L1511.2 909.7 M1536.1 921.2 L1538.9 922.6 L1541.8 924.0 L1544.6 925.3 L1547.5 926.7 L1550.3 928.0 L1553.1 929.4 L1556.0 930.7 L1558.8 932.1 L1561.7 933.4 L1564.5 934.7 L1567.4 936.0 L1570.2 937.3 L1573.0 938.6 L1575.9 939.8 L1578.7 941.0 L1581.6 942.2 M1607.0 951.9 L1609.9 952.8 L1612.8 953.7 L1615.6 954.6 L1618.5 955.4 L1621.4 956.2 L1624.2 956.9 L1627.1 957.6 L1630.0 958.2 L1632.9 958.8 L1635.7 959.4 L1638.6 959.9 L1641.5 960.4 L1644.3 960.8 L1647.2 961.2 L1650.1 961.5 L1653.0 961.8 L1655.8 962.0 M1683.1 961.7 L1686.0 961.4 L1688.9 961.1 L1691.8 960.7 L1694.7 960.2 L1697.6 959.8 L1700.5 959.2 L1703.3 958.7 L1706.2 958.0 L1709.1 957.4 L1712.0 956.7 L1714.9 955.9 L1717.8 955.1 L1720.7 954.3 L1723.5 953.4 L1726.4 952.5 L1729.3 951.6 L1732.2 950.6 M1757.8 940.5 L1760.6 939.3 L1763.5 938.0 L1766.3 936.7 L1769.1 935.4 L1772.0 934.1 L1774.8 932.8 L1777.7 931.5 L1780.5 930.1 L1783.4 928.8 L1786.2 927.4 L1789.0 926.1 L1791.9 924.7 L1794.7 923.4 L1797.6 922.0 L1800.4 920.7 L1803.3 919.3 M1827.7 908.2 L1830.6 906.9 L1833.5 905.7 L1836.4 904.5 L1839.3 903.4 L1842.2 902.2 L1845.1 901.1 L1848.0 900.0 L1850.9 899.0 L1853.8 898.0 L1856.7 897.0 L1859.6 896.1 L1862.5 895.2 L1865.4 894.3 L1868.3 893.5 L1871.2 892.7 L1874.1 892.0 M1900.5 887.4 L1903.4 887.1 L1906.3 886.9 L1909.2 886.7 L1912.1 886.6 L1915.0 886.5 L1917.9 886.5 L1920.8 886.6 L1923.7 886.6 L1926.6 886.8 L1929.5 887.0 L1932.4 887.2 L1935.2 887.5 L1938.1 887.8 L1941.0 888.2 L1943.9 888.7 L1946.8 889.1 L1949.7 889.7 M1975.8 896.4 L1978.7 897.3 L1981.5 898.3 L1984.4 899.3 L1987.3 900.4 L1990.1 901.4 L1993.0 902.5 L1995.9 903.7 L1998.7 904.8 L2001.6 906.0 L2004.5 907.2 L2007.3 908.4 L2010.2 909.7 L2013.1 911.0 L2015.9 912.3 L2018.8 913.6 L2021.7 914.9 M2046.0 926.4 L2048.8 927.7 L2051.7 929.1 L2054.5 930.4 L2057.3 931.8 L2060.1 933.1 L2063.0 934.4 L2065.8 935.7 L2068.6 937.0 L2071.5 938.2 L2074.3 939.5 L2077.1 940.7 L2079.9 941.9 L2082.8 943.1 L2085.6 944.3 L2088.4 945.4 L2091.2 946.5 M2116.9 955.2 L2119.8 956.0 L2122.7 956.7 L2125.6 957.5 L2128.5 958.1 L2131.4 958.7 L2134.4 959.3 L2137.3 959.8 L2140.2 960.3 L2143.1 960.8 L2146.0 961.1 L2148.9 961.5 L2151.8 961.8 L2154.7 962.0 L2157.6 962.2 L2160.5 962.3 L2163.4 962.4 L2166.3 962.4 M2193.5 960.3 L2196.3 959.8 L2199.1 959.3 L2201.9 958.8 L2204.8 958.2 L2207.6 957.5 L2210.4 956.8 L2213.2 956.1 L2216.1 955.4 L2218.9 954.5 L2221.7 953.7 L2224.5 952.8 L2227.3 951.9 L2230.2 951.0 L2233.0 950.0 L2235.8 949.0 L2238.6 947.9 L2241.5 946.8 M2266.5 936.3 L2269.4 934.9 L2272.4 933.5 L2275.4 932.1 L2278.4 930.7 L2281.4 929.3 L2284.4 927.9 L2287.4 926.4 L2290.4 925.0 L2293.4 923.6 L2296.4 922.1 L2299.4 920.7 L2302.4 919.3 L2305.4 917.9 L2308.4 916.5 L2311.4 915.1 M2336.3 904.2 L2339.2 903.1 L2342.1 901.9 L2344.9 900.8 L2347.8 899.8 L2350.7 898.8 L2353.5 897.8 L2356.4 896.8 L2359.3 895.9 L2362.2 895.0 L2365.0 894.2 L2367.9 893.4 L2370.8 892.6 L2373.6 891.9 L2376.5 891.2 L2379.4 890.6 L2382.2 890.0" stroke="#FFB100" stroke-width="7.7" fill="none" stroke-linecap="butt" stroke-linejoin="round"/>
<path d="M579.5 1089.3 L582.0 1099.0 L584.4 1108.6 L586.9 1118.2 L589.4 1127.6 L591.9 1137.0 M598.2 1160.5 L600.8 1169.8 L603.3 1179.0 L605.9 1188.1 L608.5 1197.1 L611.0 1206.0 M618.3 1230.6 L621.2 1240.0 L624.1 1249.3 L627.0 1258.4 L629.8 1267.3 L632.7 1276.0 M641.0 1300.0 L643.9 1307.9 L646.7 1315.5 L649.6 1323.0 L652.4 1330.2 L655.3 1337.2 L658.1 1344.0 M664.6 1358.5 L667.5 1364.5 L670.3 1370.4 L673.2 1375.9 L676.0 1381.5 L678.9 1386.8 L681.8 1391.8 L684.6 1396.5 L687.5 1400.9 L690.3 1405.1 L693.2 1409.0 M709.2 1425.5 L712.1 1427.5 L715.0 1429.2 L718.0 1430.6 L720.9 1431.7 L723.8 1432.5 L726.7 1432.9 L729.7 1433.1 L732.6 1432.9 L735.5 1432.5 L738.4 1431.7 L741.4 1430.7 L744.3 1429.4 L747.2 1427.8 L750.1 1425.9 L753.1 1423.7 L756.0 1421.3 L758.9 1418.5 M773.3 1401.0 L776.2 1396.8 L779.0 1392.3 L781.9 1387.5 L784.7 1382.6 L787.5 1377.3 L790.4 1371.9 L793.2 1366.1 L796.1 1360.2 M806.5 1336.5 L809.2 1329.7 L812.0 1322.7 L814.7 1315.5 L817.5 1308.1 L820.2 1300.6 L823.0 1292.8 M831.6 1267.5 L834.1 1259.7 L836.6 1251.7 L839.2 1243.6 L841.7 1235.4 L844.2 1227.0 M852.5 1199.0 L855.0 1190.1 L857.6 1181.0 L860.1 1171.8 L862.7 1162.6 L865.2 1153.2 M872.0 1127.9 L874.9 1116.6 L877.9 1105.2 L880.9 1093.7 L883.8 1082.1 M890.2 1056.8 L893.1 1045.3 L895.9 1033.8 L898.8 1022.2 L901.7 1010.5 M907.8 985.2 L910.6 974.1 L913.3 962.9 L916.0 951.7 L918.7 940.5 M924.9 914.8 L927.6 903.5 L930.4 892.2 L933.1 880.9 L935.8 869.6 M942.1 843.8 L944.9 832.6 L947.7 821.3 L950.4 810.2 L953.2 799.1 M959.7 773.0 L962.6 761.8 L965.4 750.7 L968.3 739.6 L971.1 728.7 M978.1 702.4 L980.6 693.2 L983.1 684.1 L985.5 675.1 L988.0 666.2 L990.5 657.4 M997.7 632.4 L1000.5 623.0 L1003.3 613.8 L1006.1 604.8 L1008.9 595.9 L1011.6 587.2 M1020.1 561.8 L1022.8 554.1 L1025.4 546.6 L1028.1 539.3 L1030.8 532.1 L1033.5 525.2 L1036.1 518.4 M1046.5 494.0 L1049.2 488.0 L1052.0 482.2 L1054.8 476.7 L1057.5 471.4 L1060.3 466.3 L1063.0 461.4 L1065.8 456.8 L1068.5 452.4 M1082.6 433.7 L1085.5 430.6 L1088.5 427.7 L1091.4 425.2 L1094.4 422.9 L1097.3 421.0 L1100.3 419.3 L1103.2 417.9 L1106.2 416.8 L1109.1 416.0 L1112.0 415.4 L1115.0 415.2 L1117.9 415.3 L1120.9 415.6 L1123.8 416.2 L1126.8 417.2 L1129.7 418.4 M1140.0 425.0 L1143.0 427.5 L1145.9 430.3 L1148.9 433.4 L1151.9 436.8 L1154.8 440.5 L1157.8 444.5 L1160.8 448.8 L1163.8 453.3 L1166.7 458.1 L1169.7 463.2 L1172.7 468.5 L1175.6 474.1 M1190.1 505.0 L1192.9 511.8 L1195.7 518.8 L1198.6 526.0 L1201.4 533.4 L1204.2 541.0 M1212.7 565.0 L1215.6 573.6 L1218.5 582.4 L1221.4 591.3 L1224.3 600.5 L1227.2 609.8 M1234.8 635.0 L1237.4 644.0 L1240.0 653.2 L1242.6 662.4 L1245.3 671.8 L1247.9 681.3 M1254.3 705.0 L1257.2 715.7 L1260.0 726.4 L1262.9 737.3 L1265.7 748.3 M1271.2 770.0 L1274.1 781.2 L1276.9 792.5 L1279.7 803.8 L1282.6 815.2 M1288.7 840.0 L1291.4 851.4 L1294.2 862.8 L1297.0 874.2 L1299.8 885.7 M1305.7 910.0 L1308.5 921.5 L1311.2 933.1 L1314.0 944.6 L1316.8 956.1 M1322.6 980.0 L1325.5 991.9 L1328.4 1003.8 L1331.3 1015.7 L1334.2 1027.5 M1339.8 1050.0 L1342.3 1059.7 L1344.7 1069.4 L1347.1 1079.0 L1349.5 1088.5 L1352.0 1098.0 M1357.7 1120.0 L1360.2 1129.7 L1362.8 1139.3 L1365.3 1148.8 L1367.9 1158.3 L1370.4 1167.6 M1376.7 1190.0 L1379.4 1199.3 L1382.0 1208.5 L1384.7 1217.6 L1387.3 1226.5 L1390.0 1235.3 M1396.1 1255.0 L1398.7 1263.1 L1401.3 1271.1 L1403.9 1278.9 L1406.5 1286.5 L1409.2 1294.0 L1411.8 1301.3 M1418.7 1320.0 L1421.6 1327.4 L1424.5 1334.6 L1427.4 1341.5 L1430.3 1348.3 L1433.1 1354.7 L1436.0 1361.0 M1461.0 1404.7 L1463.9 1408.5 L1466.8 1412.1 L1469.8 1415.4 L1472.7 1418.4 L1475.6 1421.2 L1478.5 1423.6 L1481.5 1425.8 L1484.4 1427.7 L1487.3 1429.3 L1490.2 1430.6 L1493.2 1431.7 L1496.1 1432.4 L1499.0 1432.9 M1522.4 1426.3 L1525.3 1424.3 L1528.1 1421.9 L1531.0 1419.3 L1533.9 1416.4 L1536.7 1413.3 L1539.6 1409.9 L1542.5 1406.2 L1545.3 1402.3 L1548.2 1398.1 L1551.1 1393.6 L1553.9 1388.9 L1556.8 1384.0 M1566.9 1364.6 L1569.5 1359.0 L1572.2 1353.2 L1574.8 1347.2 L1577.5 1341.0 L1580.1 1334.6 L1582.8 1328.0 L1585.5 1321.2 M1594.7 1296.2 L1597.6 1287.8 L1600.6 1279.2 L1603.5 1270.5 L1606.4 1261.5 L1609.3 1252.3 M1617.3 1226.5 L1619.8 1218.0 L1622.4 1209.3 L1624.9 1200.5 L1627.5 1191.6 L1630.0 1182.6 M1637.2 1156.4 L1640.2 1145.3 L1643.2 1134.0 L1646.2 1122.7 L1649.2 1111.2 M1655.8 1085.9 L1658.6 1074.8 L1661.4 1063.6 L1664.2 1052.3 L1667.0 1041.0 M1673.4 1015.2 L1676.2 1003.9 L1678.9 992.6 L1681.7 981.3 L1684.5 969.9 M1690.6 944.6 L1693.3 933.3 L1696.1 921.9 L1698.8 910.6 L1701.5 899.3 M1707.9 873.1 L1710.6 861.8 L1713.4 850.6 L1716.1 839.4 L1718.9 828.2 M1725.2 802.5 L1728.1 791.1 L1730.9 779.7 L1733.8 768.4 L1736.6 757.2 M1743.2 731.9 L1746.1 720.6 L1749.1 709.5 L1752.1 698.4 L1755.0 687.5 M1762.2 661.8 L1764.8 652.6 L1767.4 643.5 L1770.0 634.5 L1772.6 625.7 L1775.2 617.0 M1783.1 591.7 L1786.1 582.4 L1789.1 573.4 L1792.1 564.5 L1795.1 555.8 L1798.1 547.4 M1807.2 523.0 L1810.0 516.0 L1812.8 509.3 L1815.5 502.7 L1818.3 496.4 L1821.1 490.3 L1823.9 484.4 L1826.7 478.7 M1835.6 462.0 L1838.5 457.0 L1841.5 452.3 L1844.4 447.9 L1847.4 443.7 L1850.3 439.9 L1853.2 436.2 L1856.2 432.9 L1859.1 429.9 L1862.1 427.1 L1865.0 424.6 L1868.0 422.4 L1870.9 420.5 M1895.3 415.9 L1898.2 416.7 L1901.1 417.8 L1904.1 419.1 L1907.0 420.8 L1909.9 422.7 L1912.8 424.9 L1915.8 427.4 L1918.7 430.2 L1921.6 433.2 L1924.5 436.5 L1927.5 440.2 L1930.4 444.0 L1933.3 448.2 M1946.6 470.5 L1949.0 475.0 M1975.8 537.4 L1977.8 542.9 M2023.2 690.0 L2026.0 700.2 L2028.7 710.6 L2031.5 721.0 M2041.6 760.0 L2044.3 770.8 L2047.1 781.7 L2049.8 792.6 M2059.1 830.0 L2061.9 841.3 L2064.6 852.6 L2067.4 864.0 M2076.2 900.0 L2079.0 911.7 L2081.8 923.3 L2084.6 935.0 M2093.1 970.0 L2095.9 981.7 L2098.8 993.4 L2101.6 1005.1 M2110.2 1040.0 L2112.5 1049.1 L2114.8 1058.2 L2117.1 1067.3 L2119.3 1076.3 M2128.0 1110.0 L2130.4 1119.5 L2132.9 1128.9 L2135.4 1138.3 L2137.9 1147.5 M2146.8 1180.0 L2149.5 1189.7 L2152.2 1199.3 L2155.0 1208.7 L2157.7 1218.0 M2167.5 1250.0 L2170.0 1257.9 L2172.5 1265.7 L2175.0 1273.4 L2177.5 1280.9 L2180.0 1288.2 M2188.6 1312.0 L2191.5 1319.8 L2194.5 1327.5 L2197.5 1334.8 L2200.5 1342.0 L2203.4 1348.9 L2206.4 1355.5 M2215.4 1374.1 L2218.3 1379.6 L2221.2 1384.8 L2224.1 1389.7 L2227.0 1394.4 L2229.8 1398.9 L2232.7 1403.1 L2235.6 1407.0 L2238.5 1410.6 L2241.4 1414.0 L2244.3 1417.1 M2266.0 1431.7 L2268.9 1432.4 L2271.8 1432.9 L2274.7 1433.1 L2277.6 1433.0 L2280.5 1432.6 L2283.4 1432.0 L2286.3 1431.1 L2289.1 1429.8 L2292.0 1428.3 L2294.9 1426.6 L2297.8 1424.5 L2300.7 1422.2 L2303.6 1419.6 L2306.5 1416.7 L2309.4 1413.6 M2325.2 1391.7 L2327.8 1387.2 L2330.5 1382.6 L2333.2 1377.7 L2335.8 1372.6 L2338.5 1367.3 L2341.1 1361.7 L2343.8 1356.0 L2346.5 1350.1 M2357.0 1324.8 L2359.6 1318.0 L2362.2 1311.0 L2364.8 1303.9 L2367.5 1296.6 L2370.1 1289.1 L2372.7 1281.4 M2381.0 1256.1 L2384.0 1246.6 L2387.0 1237.0 L2390.0 1227.1" stroke="#FFB100" stroke-width="7.7" fill="none" stroke-linecap="butt" stroke-linejoin="round"/>
<path d="M579.5 939.8 L582.3 941.1 L585.1 942.3 L587.9 943.5 L590.8 944.7 L593.6 945.8 L596.4 946.9 L599.2 948.1 L602.1 949.1 L604.9 950.2 L607.7 951.2 L610.5 952.2 L613.4 953.1 L616.2 954.1 L619.0 955.0 L621.8 955.8 L624.7 956.6 M651.3 962.3 L654.2 962.7 L657.1 963.0 L660.0 963.3 L663.0 963.5 L665.9 963.7 L668.8 963.9 L671.7 963.9 L674.6 964.0 L677.5 964.0 L680.5 963.9 L683.4 963.8 L686.3 963.6 L689.2 963.4 L692.1 963.1 L695.1 962.8 L698.0 962.4 L700.9 962.0 M727.4 956.1 L730.3 955.3 L733.2 954.4 L736.1 953.4 L739.0 952.5 L741.9 951.5 L744.8 950.4 L747.7 949.4 L750.6 948.3 L753.5 947.1 L756.4 946.0 L759.3 944.8 L762.2 943.6 L765.1 942.3 L768.0 941.1 L770.9 939.8 L773.8 938.5 M798.5 927.1 L801.3 925.7 L804.2 924.4 L807.0 923.0 L809.8 921.7 L812.7 920.4 L815.5 919.0 L818.4 917.7 L821.2 916.4 L824.0 915.1 L826.9 913.9 L829.7 912.6 L832.6 911.4 L835.4 910.1 L838.2 908.9 L841.1 907.7 L843.9 906.6 M869.6 897.4 L872.5 896.6 L875.3 895.8 L878.2 895.0 L881.1 894.3 L884.0 893.6 L886.9 892.9 L889.8 892.3 L892.6 891.8 L895.5 891.3 L898.4 890.8 L901.3 890.4 L904.2 890.0 L907.0 889.7 L909.9 889.4 L912.8 889.2 L915.7 889.0 L918.6 888.9 M945.7 890.0 L948.5 890.4 L951.4 890.8 L954.2 891.3 L957.0 891.8 L959.8 892.3 L962.7 892.9 L965.5 893.6 L968.3 894.3 L971.2 895.0 L974.0 895.7 L976.8 896.5 L979.7 897.4 L982.5 898.2 L985.3 899.2 L988.2 900.1 L991.0 901.1 L993.8 902.1 M1019.0 912.2 L1021.8 913.5 L1024.6 914.7 L1027.5 916.0 L1030.3 917.3 L1033.1 918.6 L1035.9 919.9 L1038.8 921.2 L1041.6 922.5 L1044.4 923.8 L1047.3 925.2 L1050.1 926.5 L1052.9 927.8 L1055.7 929.2 L1058.6 930.5 L1061.4 931.8 L1064.2 933.1 M1089.1 944.1 L1092.1 945.3 L1095.0 946.5 L1098.0 947.6 L1101.0 948.8 L1103.9 949.9 L1106.9 950.9 L1109.9 952.0 L1112.8 952.9 L1115.8 953.9 L1118.7 954.8 L1121.7 955.7 L1124.7 956.5 L1127.6 957.3 L1130.6 958.1 L1133.6 958.8 L1136.5 959.4 M1163.5 963.2 L1166.4 963.3 L1169.3 963.4 L1172.2 963.5 L1175.1 963.5 L1178.0 963.4 L1180.9 963.3 L1183.8 963.2 L1186.7 963.0 L1189.6 962.7 L1192.5 962.4 L1195.4 962.1 L1198.3 961.7 L1201.3 961.3 L1204.2 960.8 L1207.1 960.2 L1210.0 959.6 L1212.9 959.0 M1238.9 951.5 L1241.8 950.4 L1244.7 949.4 L1247.5 948.3 L1250.4 947.2 L1253.3 946.1 L1256.1 944.9 L1259.0 943.7 L1261.8 942.5 L1264.7 941.3 L1267.6 940.0 L1270.4 938.7 L1273.3 937.4 L1276.2 936.1 L1279.0 934.8 L1281.9 933.5 L1284.7 932.1 M1309.3 920.4 L1312.1 919.0 L1315.0 917.7 L1317.8 916.3 L1320.7 915.0 L1323.6 913.7 L1326.4 912.4 L1329.3 911.1 L1332.1 909.8 L1335.0 908.6 L1337.8 907.4 L1340.7 906.2 L1343.6 905.0 L1346.4 903.8 L1349.3 902.7 L1352.1 901.6 L1355.0 900.5 M1381.0 892.4 L1383.9 891.7 L1386.8 891.1 L1389.7 890.4 L1392.6 889.9 L1395.5 889.4 L1398.4 888.9 L1401.3 888.5 L1404.2 888.1 L1407.1 887.8 L1410.0 887.5 L1412.9 887.2 L1415.9 887.1 L1418.8 886.9 L1421.7 886.9 L1424.6 886.8 L1427.5 886.9 L1430.4 886.9 M1457.3 890.1 L1460.3 890.7 L1463.3 891.3 L1466.2 892.0 L1469.2 892.8 L1472.1 893.5 L1475.1 894.4 L1478.1 895.2 L1481.0 896.2 L1484.0 897.1 L1487.0 898.1 L1489.9 899.1 L1492.9 900.2 L1495.8 901.3 L1498.8 902.4 L1501.8 903.6 L1504.7 904.8 M1529.6 915.7 L1532.4 917.0 L1535.2 918.3 L1538.1 919.6 L1540.9 921.0 L1543.7 922.3 L1546.5 923.7 L1549.3 925.0 L1552.1 926.4 L1555.0 927.7 L1557.8 929.0 L1560.6 930.4 L1563.4 931.7 L1566.2 933.0 L1569.0 934.3 L1571.9 935.6 L1574.7 936.9 M1599.8 947.5 L1602.6 948.5 L1605.4 949.6 L1608.2 950.6 L1611.1 951.5 L1613.9 952.5 L1616.7 953.4 L1619.5 954.2 L1622.4 955.1 L1625.2 955.9 L1628.0 956.6 L1630.8 957.3 L1633.7 958.0 L1636.5 958.6 L1639.3 959.2 L1642.1 959.7 L1645.0 960.2 L1647.8 960.7 M1674.9 962.6 L1677.8 962.6 L1680.7 962.5 L1683.6 962.3 L1686.4 962.1 L1689.3 961.9 L1692.2 961.6 L1695.1 961.2 L1698.0 960.9 L1700.9 960.4 L1703.7 959.9 L1706.6 959.4 L1709.5 958.8 L1712.4 958.2 L1715.3 957.5 L1718.2 956.8 L1721.0 956.0 L1723.9 955.2 M1749.6 946.5 L1752.5 945.4 L1755.3 944.2 L1758.1 943.0 L1761.0 941.8 L1763.8 940.6 L1766.7 939.4 L1769.5 938.1 L1772.3 936.8 L1775.2 935.6 L1778.0 934.2 L1780.8 932.9 L1783.7 931.6 L1786.5 930.3 L1789.4 928.9 L1792.2 927.6 L1795.0 926.2 M1819.3 914.7 L1822.2 913.4 L1825.0 912.1 L1827.8 910.9 L1830.7 909.6 L1833.5 908.4 L1836.4 907.2 L1839.2 906.0 L1842.1 904.8 L1844.9 903.6 L1847.8 902.5 L1850.6 901.4 L1853.5 900.4 L1856.3 899.3 L1859.2 898.3 L1862.0 897.4 L1864.9 896.5 M1890.9 889.8 L1893.7 889.3 L1896.6 888.8 L1899.5 888.4 L1902.4 888.0 L1905.2 887.7 L1908.1 887.4 L1911.0 887.2 L1913.8 887.0 L1916.7 886.9 L1919.6 886.8 L1922.5 886.7 L1925.3 886.8 L1928.2 886.8 L1931.1 886.9 L1934.0 887.1 L1936.8 887.3 L1939.7 887.6 M1965.9 892.2 L1968.8 892.9 L1971.7 893.7 L1974.6 894.5 L1977.4 895.3 L1980.3 896.2 L1983.2 897.1 L1986.1 898.1 L1988.9 899.1 L1991.8 900.1 L1994.7 901.2 L1997.6 902.3 L2000.4 903.4 L2003.3 904.5 L2006.2 905.7 L2009.1 906.9 L2011.9 908.1 M2036.2 919.2 L2039.2 920.6 L2042.2 922.0 L2045.1 923.4 L2048.1 924.9 L2051.1 926.3 L2054.1 927.7 L2057.0 929.1 L2060.0 930.5 L2063.0 931.9 L2066.0 933.3 L2068.9 934.7 L2071.9 936.0 L2074.9 937.4 L2077.8 938.7 L2080.8 940.0 M2105.9 950.1 L2108.8 951.0 L2111.6 952.0 L2114.5 952.9 L2117.3 953.8 L2120.2 954.7 L2123.0 955.5 L2125.9 956.3 L2128.7 957.0 L2131.6 957.7 L2134.4 958.4 L2137.3 959.0 L2140.1 959.5 L2143.0 960.0 L2145.9 960.5 L2148.7 960.9 L2151.6 961.3 L2154.4 961.7 M2181.5 962.4 L2184.4 962.2 L2187.2 962.0 L2190.0 961.7 L2192.9 961.4 L2195.7 961.0 L2198.5 960.6 L2201.4 960.2 L2204.2 959.7 L2207.1 959.1 L2209.9 958.5 L2212.7 957.9 L2215.6 957.2 L2218.4 956.5 L2221.3 955.7 L2224.1 954.9 L2226.9 954.1 L2229.8 953.2 M2255.0 944.0 L2258.0 942.7 L2261.0 941.5 L2263.9 940.2 L2266.9 938.9 L2269.9 937.5 L2272.9 936.2 L2275.9 934.8 L2278.8 933.4 L2281.8 932.1 L2284.8 930.7 L2287.8 929.2 L2290.8 927.8 L2293.7 926.4 L2296.7 925.0 L2299.7 923.6 M2324.2 912.1 L2327.1 910.8 L2330.0 909.5 L2333.0 908.2 L2335.9 907.0 L2338.8 905.8 L2341.7 904.6 L2344.6 903.4 L2347.6 902.3 L2350.5 901.2 L2353.4 900.1 L2356.3 899.0 L2359.2 898.0 L2362.2 897.1 L2365.1 896.1 L2368.0 895.2 L2370.9 894.4" stroke="#922B92" stroke-width="7.7" fill="none" stroke-linecap="butt" stroke-linejoin="round"/>
<path d="M579.5 1087.8 L581.9 1097.4 L584.4 1107.0 L586.9 1116.5 L589.3 1125.9 L591.8 1135.2 M598.6 1160.5 L601.1 1169.5 L603.5 1178.5 L606.0 1187.3 L608.5 1196.1 L610.9 1204.7 M618.6 1230.6 L621.3 1239.8 L624.1 1248.8 L626.9 1257.6 L629.7 1266.3 L632.4 1274.8 M641.0 1300.0 L643.8 1307.8 L646.6 1315.5 L649.3 1323.0 L652.1 1330.2 L654.9 1337.3 M663.8 1358.5 L666.5 1364.5 L669.2 1370.3 L671.9 1376.0 L674.6 1381.4 L677.3 1386.6 L680.0 1391.6 L682.7 1396.4 M696.0 1417.0 L699.0 1420.9 L701.9 1424.5 L704.9 1427.8 L707.9 1430.8 L710.8 1433.6 L713.8 1436.1 L716.8 1438.4 L719.7 1440.3 L722.7 1442.0 M746.3 1445.4 L749.3 1444.6 L752.2 1443.5 L755.2 1442.2 L758.1 1440.5 L761.1 1438.6 L764.0 1436.4 L767.0 1434.0 L769.9 1431.2 L772.9 1428.2 L775.8 1424.9 L778.8 1421.4 M791.0 1404.0 L794.0 1399.0 L796.9 1393.7 L799.9 1388.2 L802.9 1382.4 L805.9 1376.4 L808.9 1370.1 L811.9 1363.5 M822.4 1338.3 L825.0 1331.7 L827.6 1325.0 L830.1 1318.1 L832.7 1311.0 L835.3 1303.6 L837.8 1296.0 M845.4 1272.5 L848.1 1263.8 L850.9 1255.0 L853.6 1245.9 L856.3 1236.7 L859.0 1227.4 M866.1 1202.1 L868.5 1193.2 L871.0 1184.1 L873.4 1174.9 L875.9 1165.7 L878.3 1156.3 M884.4 1132.7 L887.4 1121.0 L890.3 1109.2 L893.3 1097.3 L896.2 1085.3 M902.1 1061.0 L904.8 1049.6 L907.6 1038.2 L910.3 1026.7 L913.0 1015.1 M919.1 989.8 L921.8 978.3 L924.6 966.8 L927.4 955.3 L930.1 943.7 M936.2 918.4 L938.9 907.1 L941.6 895.7 L944.4 884.5 L947.1 873.2 M953.4 847.5 L956.2 836.0 L959.0 824.5 L961.9 813.1 L964.7 801.8 M970.8 777.5 L973.7 766.1 L976.6 754.7 L979.5 743.4 L982.4 732.3 M989.4 706.1 L991.9 697.0 L994.3 688.0 L996.8 679.0 L999.3 670.2 L1001.7 661.5 M1008.9 636.9 L1011.8 627.1 L1014.8 617.5 L1017.7 608.0 M1024.7 586.3 L1027.2 578.7 L1029.8 571.2 L1032.3 563.9 L1034.9 556.7 L1037.4 549.7 L1040.0 542.9 M1050.2 517.5 L1052.7 511.5 L1055.3 505.7 L1057.9 500.1 L1060.5 494.6 L1063.1 489.4 L1065.7 484.4 L1068.3 479.6 M1080.6 459.7 L1083.4 455.8 L1086.2 452.2 L1089.1 448.8 L1091.9 445.7 L1094.8 442.9 L1097.6 440.3 L1100.4 438.1 L1103.3 436.1 L1106.1 434.4 M1131.5 431.5 L1134.4 432.5 L1137.2 433.9 L1140.1 435.6 L1142.9 437.5 L1145.8 439.7 L1148.7 442.2 L1151.5 445.0 L1154.4 448.0 L1157.2 451.3 L1160.1 454.9 L1162.9 458.8 L1165.8 462.9 M1175.9 479.6 L1178.7 484.8 L1181.5 490.3 L1184.3 496.0 L1187.1 502.0 L1189.9 508.1 L1192.7 514.6 L1195.5 521.2 M1204.8 544.7 L1207.4 551.5 L1209.9 558.5 L1212.4 565.7 L1215.0 573.0 L1217.5 580.5 L1220.0 588.1 M1228.2 613.5 L1230.8 622.0 L1233.4 630.6 L1236.0 639.4 L1238.6 648.3 L1241.2 657.3 M1248.2 682.2 L1250.7 691.1 L1253.1 700.0 L1255.6 709.1 L1258.0 718.3 L1260.5 727.5 M1265.9 748.3 L1268.5 758.4 L1271.1 768.5 L1273.7 778.7 L1276.3 789.0 M1282.8 815.2 L1285.6 826.4 L1288.4 837.7 L1291.1 849.0 L1293.9 860.4 M1300.1 885.7 L1302.7 896.5 L1305.3 907.3 L1307.9 918.1 L1310.5 928.9 M1317.1 956.1 L1319.9 967.4 L1322.6 978.8 L1325.4 990.0 L1328.1 1001.3 M1334.5 1027.5 L1337.4 1038.9 L1340.2 1050.2 L1343.0 1061.5 L1345.8 1072.7 M1352.2 1098.0 L1355.2 1109.5 L1358.1 1120.8 L1361.1 1132.1 L1364.0 1143.2 M1370.6 1167.6 L1373.2 1177.0 L1375.8 1186.3 L1378.4 1195.5 L1381.0 1204.6 L1383.6 1213.6 M1390.0 1235.3 L1392.5 1243.5 L1395.0 1251.6 L1397.5 1259.5 L1400.0 1267.3 L1402.5 1275.0 M1411.4 1301.3 L1414.4 1309.7 L1417.4 1317.8 L1420.4 1325.8 L1423.3 1333.5 L1426.3 1341.0 M1434.8 1361.0 L1437.7 1367.4 L1440.5 1373.5 L1443.4 1379.4 L1446.3 1385.1 L1449.2 1390.5 L1452.1 1395.7 L1455.0 1400.7 M1464.6 1415.5 L1467.5 1419.4 L1470.3 1423.0 L1473.2 1426.3 L1476.1 1429.4 L1478.9 1432.2 L1481.8 1434.8 L1484.7 1437.1 L1487.5 1439.2 L1490.4 1441.0 L1493.3 1442.5 L1496.1 1443.8 L1499.0 1444.8 M1522.4 1443.2 L1525.2 1441.8 L1528.0 1440.2 L1530.8 1438.3 L1533.5 1436.2 L1536.3 1433.9 L1539.1 1431.3 L1541.9 1428.4 L1544.7 1425.4 L1547.5 1422.0 L1550.2 1418.5 L1553.0 1414.8 L1555.8 1410.8 L1558.6 1406.6 M1567.4 1391.7 L1570.2 1386.4 L1573.1 1380.9 L1575.9 1375.2 L1578.7 1369.2 L1581.6 1363.0 L1584.4 1356.6 L1587.2 1350.0 M1597.3 1324.8 L1600.2 1317.0 L1603.2 1308.9 L1606.1 1300.6 L1609.0 1292.2 L1612.0 1283.5 M1620.4 1257.5 L1623.1 1249.0 L1625.7 1240.3 L1628.4 1231.5 L1631.0 1222.6 L1633.7 1213.5 M1639.9 1191.7 L1642.1 1183.9 L1644.3 1176.1 L1646.5 1168.2 M1653.3 1142.9 L1656.2 1131.7 L1659.2 1120.5 L1662.1 1109.1 L1665.1 1097.6 M1671.5 1072.3 L1674.3 1061.0 L1677.2 1049.5 L1680.0 1038.0 L1682.9 1026.5 M1689.2 1000.6 L1691.9 989.6 L1694.6 978.5 L1697.2 967.4 L1699.9 956.3 M1706.0 931.0 L1708.8 919.5 L1711.6 907.9 L1714.3 896.4 L1717.1 884.9 M1723.4 859.0 L1726.1 847.6 L1728.9 836.3 L1731.7 825.0 L1734.4 813.8 M1740.8 788.0 L1743.6 776.8 L1746.4 765.7 L1749.2 754.6 L1752.0 743.7 M1759.1 716.5 L1761.6 707.1 L1764.1 697.8 L1766.6 688.6 L1769.1 679.5 M1775.7 656.0 L1778.3 646.8 L1780.9 637.7 L1783.6 628.7 L1786.2 619.9 L1788.9 611.2 M1796.2 588.0 L1799.1 578.9 L1802.1 570.0 L1805.1 561.4 L1808.1 552.9 L1811.0 544.7 M1820.1 521.2 L1823.0 514.1 L1825.9 507.2 L1828.8 500.6 L1831.7 494.3 L1834.6 488.1 L1837.6 482.3 M1846.3 466.4 L1849.1 461.8 L1851.9 457.5 L1854.6 453.4 L1857.4 449.6 L1860.2 446.1 L1863.0 442.8 L1865.8 439.8 L1868.6 437.0 L1871.4 434.6 L1874.1 432.3 L1876.9 430.4 L1879.7 428.7 M1897.1 424.4 L1899.9 424.7 L1902.8 425.3 L1905.6 426.2 L1908.5 427.4 L1911.3 428.8 L1914.2 430.5 L1917.0 432.6 L1919.8 434.9 L1922.7 437.4 L1925.5 440.3 L1928.4 443.4 L1931.2 446.8 L1934.1 450.5 L1936.9 454.5 M1949.4 475.0 L1952.2 480.3 L1955.0 485.9 L1957.9 491.8 L1960.7 497.8 L1963.5 504.2 L1966.3 510.7 L1969.2 517.5 M1979.0 542.9 L1981.8 550.7 L1984.7 558.7 L1987.5 566.9 L1990.3 575.4 L1993.2 584.0 M2000.6 607.5 L2003.3 616.3 L2006.0 625.2 L2008.6 634.2 L2011.3 643.4 L2014.0 652.8 M2017.8 666.3 L2020.2 675.1 L2022.6 683.9 L2025.0 692.9 L2027.4 701.9 L2029.9 711.1 M2036.2 735.5 L2039.1 746.7 L2041.9 757.9 L2044.8 769.3 L2047.6 780.7 M2054.0 806.6 L2056.8 817.7 L2059.5 828.8 L2062.2 840.1 L2064.9 851.3 M2071.2 877.5 L2073.9 888.8 L2076.6 900.2 L2079.3 911.5 L2082.0 922.9 M2088.2 949.0 L2090.8 959.9 L2093.4 970.8 L2096.0 981.7 L2098.6 992.5 M2104.9 1018.7 L2107.6 1030.0 L2110.3 1041.3 L2113.1 1052.5 L2115.8 1063.7 M2122.5 1090.6 L2125.3 1101.8 L2128.1 1112.9 L2130.9 1124.0 L2133.7 1134.9 M2140.6 1161.1 L2143.5 1172.2 L2146.5 1183.1 L2149.4 1193.9 L2152.3 1204.5 M2160.1 1231.6 L2162.7 1240.8 L2165.4 1249.8 L2168.1 1258.7 L2170.8 1267.4 L2173.5 1276.0 M2181.7 1301.3 L2184.5 1309.6 L2187.4 1317.8 L2190.2 1325.7 L2193.0 1333.5 L2195.8 1341.0 M2204.5 1362.7 L2207.4 1369.6 L2210.3 1376.3 L2213.3 1382.8 L2216.2 1389.0 L2219.1 1395.0 L2222.1 1400.7 M2229.9 1414.6 L2232.7 1419.2 L2235.5 1423.5 L2238.3 1427.5 L2241.1 1431.4 L2243.9 1434.9 L2246.6 1438.3 L2249.4 1441.3 L2252.2 1444.2 L2255.0 1446.7 L2257.8 1449.1 L2260.6 1451.2 M2284.1 1458.6 L2286.9 1458.2 L2289.8 1457.6 L2292.6 1456.8 L2295.5 1455.6 L2298.3 1454.2 L2301.2 1452.6 L2304.0 1450.6 L2306.8 1448.4 L2309.7 1446.0 L2312.5 1443.3 L2315.4 1440.3 L2318.2 1437.1 L2321.1 1433.6 L2323.9 1429.8 M2336.7 1409.8 L2339.5 1404.8 L2342.3 1399.6 L2345.1 1394.1 L2347.9 1388.4 L2350.6 1382.5 L2353.4 1376.4 L2356.2 1370.0 M2367.2 1342.9 L2370.0 1335.3 L2372.8 1327.6 L2375.7 1319.6 L2378.5 1311.4 L2381.4 1303.0 M2389.0 1279.6 L2390.0 1276.4" stroke="#922B92" stroke-width="7.7" fill="none" stroke-linecap="butt" stroke-linejoin="round"/>
</g>
<rect x="339" y="96" width="1994" height="279" fill="#ffffff" stroke="#222222" stroke-width="4"/>
<g shape-rendering="crispEdges">
<path d="M369 170 H474" stroke="#0073C4" stroke-width="8" stroke-linecap="round" shape-rendering="auto"/>
<rect x="365" y="297" width="28" height="7" fill="#922B92"/>
<rect x="408" y="297" width="27" height="7" fill="#922B92"/>
<rect x="450.3" y="297" width="22" height="7" fill="#922B92"/>
<rect x="1375" y="167" width="28" height="8" fill="#FFB100"/>
<rect x="1418" y="167" width="27" height="8" fill="#FFB100"/>
<rect x="1460" y="167" width="22" height="8" fill="#FFB100"/>
<rect x="1375" y="294" width="28" height="7" fill="#F9530A"/>
<rect x="1418" y="294" width="27" height="7" fill="#F9530A"/>
<rect x="1460" y="294" width="22" height="7" fill="#F9530A"/>
</g>
<g font-family="'Liberation Sans', Arial, sans-serif" font-size="63" fill="#000000">
<text x="495.5" y="192.3">numerical method</text>
<text x="495.2" y="322.1">renormalization group method</text>
<text x="1507" y="192.8">approximate solution method</text>
<text x="1510.7" y="319.4" fill="#404040">intrusive harmonic method</text>
</g>
<g font-family="'Liberation Serif', 'Times New Roman', serif" fill="#000000">
<text x="450.6" y="625" font-size="87" font-style="italic">t</text>
<text x="476.6" y="646.3" font-size="51">d</text>
<text x="528" y="629" font-size="97">=</text>
<text x="596.7" y="625" font-size="87">0.08</text>
<text x="761.8" y="625" font-size="87">s</text>
</g>
</svg>
</body></html>
